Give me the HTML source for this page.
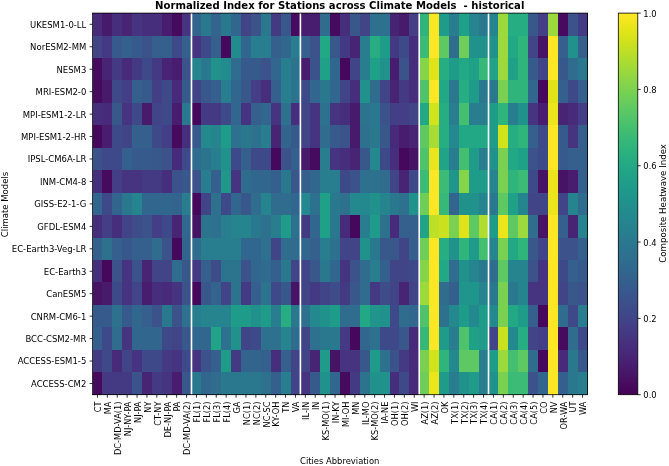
<!DOCTYPE html>
<html lang="en"><head><meta charset="utf-8"><title>Normalized Index heatmap</title>
<style>html,body{margin:0;padding:0;background:#fff}svg{display:block}text{font-family:"DejaVu Sans","Liberation Sans",sans-serif;fill:#000}</style></head><body>
<svg width="669" height="466" viewBox="0 0 669 466">
<rect width="669" height="466" fill="#fff"/>
<g shape-rendering="crispEdges">
<rect x="92.50" y="13.10" width="9.95" height="22.50" fill="#472a7a"/>
<rect x="102.40" y="13.10" width="9.95" height="22.50" fill="#481a6c"/>
<rect x="112.30" y="13.10" width="9.95" height="22.50" fill="#472e7c"/>
<rect x="122.20" y="13.10" width="9.95" height="22.50" fill="#482475"/>
<rect x="132.10" y="13.10" width="9.95" height="22.50" fill="#463480"/>
<rect x="142.00" y="13.10" width="9.95" height="22.50" fill="#472e7c"/>
<rect x="151.90" y="13.10" width="9.95" height="22.50" fill="#472e7c"/>
<rect x="161.80" y="13.10" width="9.95" height="22.50" fill="#481d6f"/>
<rect x="171.70" y="13.10" width="9.95" height="22.50" fill="#460b5e"/>
<rect x="181.60" y="13.10" width="9.95" height="22.50" fill="#463480"/>
<rect x="191.50" y="13.10" width="9.95" height="22.50" fill="#32648e"/>
<rect x="201.40" y="13.10" width="9.95" height="22.50" fill="#2a788e"/>
<rect x="211.30" y="13.10" width="9.95" height="22.50" fill="#32648e"/>
<rect x="221.20" y="13.10" width="9.95" height="22.50" fill="#2a788e"/>
<rect x="231.10" y="13.10" width="9.95" height="22.50" fill="#31678e"/>
<rect x="241.00" y="13.10" width="9.95" height="22.50" fill="#414487"/>
<rect x="250.90" y="13.10" width="9.95" height="22.50" fill="#3b528b"/>
<rect x="260.80" y="13.10" width="9.95" height="22.50" fill="#2a788e"/>
<rect x="270.70" y="13.10" width="9.95" height="22.50" fill="#443a83"/>
<rect x="280.60" y="13.10" width="9.95" height="22.50" fill="#38588c"/>
<rect x="290.50" y="13.10" width="9.95" height="22.50" fill="#460b5e"/>
<rect x="300.40" y="13.10" width="9.95" height="22.50" fill="#481d6f"/>
<rect x="310.30" y="13.10" width="9.95" height="22.50" fill="#481d6f"/>
<rect x="320.20" y="13.10" width="9.95" height="22.50" fill="#2f6c8e"/>
<rect x="330.10" y="13.10" width="9.95" height="22.50" fill="#460b5e"/>
<rect x="340.00" y="13.10" width="9.95" height="22.50" fill="#472e7c"/>
<rect x="349.90" y="13.10" width="9.95" height="22.50" fill="#38588c"/>
<rect x="359.80" y="13.10" width="9.95" height="22.50" fill="#414487"/>
<rect x="369.70" y="13.10" width="9.95" height="22.50" fill="#2d718e"/>
<rect x="379.60" y="13.10" width="9.95" height="22.50" fill="#2d718e"/>
<rect x="389.50" y="13.10" width="9.95" height="22.50" fill="#482475"/>
<rect x="399.40" y="13.10" width="9.95" height="22.50" fill="#481a6c"/>
<rect x="409.30" y="13.10" width="9.95" height="22.50" fill="#433e85"/>
<rect x="419.20" y="13.10" width="9.95" height="22.50" fill="#2fb47c"/>
<rect x="429.10" y="13.10" width="9.95" height="22.50" fill="#fde725"/>
<rect x="439.00" y="13.10" width="9.95" height="22.50" fill="#1e9c89"/>
<rect x="448.90" y="13.10" width="9.95" height="22.50" fill="#287d8e"/>
<rect x="458.80" y="13.10" width="9.95" height="22.50" fill="#1fa188"/>
<rect x="468.70" y="13.10" width="9.95" height="22.50" fill="#25848e"/>
<rect x="478.60" y="13.10" width="9.95" height="22.50" fill="#2a788e"/>
<rect x="488.50" y="13.10" width="9.95" height="22.50" fill="#25848e"/>
<rect x="498.40" y="13.10" width="9.95" height="22.50" fill="#9bd93c"/>
<rect x="508.30" y="13.10" width="9.95" height="22.50" fill="#26ad81"/>
<rect x="518.20" y="13.10" width="9.95" height="22.50" fill="#26ad81"/>
<rect x="528.10" y="13.10" width="9.95" height="22.50" fill="#38588c"/>
<rect x="538.00" y="13.10" width="9.95" height="22.50" fill="#433e85"/>
<rect x="547.90" y="13.10" width="9.95" height="22.50" fill="#9bd93c"/>
<rect x="557.80" y="13.10" width="9.95" height="22.50" fill="#460b5e"/>
<rect x="567.70" y="13.10" width="9.95" height="22.50" fill="#3b528b"/>
<rect x="577.60" y="13.10" width="9.95" height="22.50" fill="#443a83"/>
<rect x="92.50" y="35.55" width="9.95" height="22.50" fill="#414487"/>
<rect x="102.40" y="35.55" width="9.95" height="22.50" fill="#443a83"/>
<rect x="112.30" y="35.55" width="9.95" height="22.50" fill="#375a8c"/>
<rect x="122.20" y="35.55" width="9.95" height="22.50" fill="#355f8d"/>
<rect x="132.10" y="35.55" width="9.95" height="22.50" fill="#375a8c"/>
<rect x="142.00" y="35.55" width="9.95" height="22.50" fill="#3b528b"/>
<rect x="151.90" y="35.55" width="9.95" height="22.50" fill="#355f8d"/>
<rect x="161.80" y="35.55" width="9.95" height="22.50" fill="#355f8d"/>
<rect x="171.70" y="35.55" width="9.95" height="22.50" fill="#3e4989"/>
<rect x="181.60" y="35.55" width="9.95" height="22.50" fill="#355f8d"/>
<rect x="191.50" y="35.55" width="9.95" height="22.50" fill="#463480"/>
<rect x="201.40" y="35.55" width="9.95" height="22.50" fill="#3e4989"/>
<rect x="211.30" y="35.55" width="9.95" height="22.50" fill="#355f8d"/>
<rect x="221.20" y="35.55" width="9.95" height="22.50" fill="#46085c"/>
<rect x="231.10" y="35.55" width="9.95" height="22.50" fill="#228b8d"/>
<rect x="241.00" y="35.55" width="9.95" height="22.50" fill="#31678e"/>
<rect x="250.90" y="35.55" width="9.95" height="22.50" fill="#287d8e"/>
<rect x="260.80" y="35.55" width="9.95" height="22.50" fill="#287d8e"/>
<rect x="270.70" y="35.55" width="9.95" height="22.50" fill="#355f8d"/>
<rect x="280.60" y="35.55" width="9.95" height="22.50" fill="#31678e"/>
<rect x="290.50" y="35.55" width="9.95" height="22.50" fill="#287d8e"/>
<rect x="300.40" y="35.55" width="9.95" height="22.50" fill="#355f8d"/>
<rect x="310.30" y="35.55" width="9.95" height="22.50" fill="#3b528b"/>
<rect x="320.20" y="35.55" width="9.95" height="22.50" fill="#22a884"/>
<rect x="330.10" y="35.55" width="9.95" height="22.50" fill="#38588c"/>
<rect x="340.00" y="35.55" width="9.95" height="22.50" fill="#443a83"/>
<rect x="349.90" y="35.55" width="9.95" height="22.50" fill="#482475"/>
<rect x="359.80" y="35.55" width="9.95" height="22.50" fill="#287d8e"/>
<rect x="369.70" y="35.55" width="9.95" height="22.50" fill="#26ad81"/>
<rect x="379.60" y="35.55" width="9.95" height="22.50" fill="#1e9c89"/>
<rect x="389.50" y="35.55" width="9.95" height="22.50" fill="#443a83"/>
<rect x="399.40" y="35.55" width="9.95" height="22.50" fill="#3e4989"/>
<rect x="409.30" y="35.55" width="9.95" height="22.50" fill="#472e7c"/>
<rect x="419.20" y="35.55" width="9.95" height="22.50" fill="#3bbb75"/>
<rect x="429.10" y="35.55" width="9.95" height="22.50" fill="#fde725"/>
<rect x="439.00" y="35.55" width="9.95" height="22.50" fill="#5ec962"/>
<rect x="448.90" y="35.55" width="9.95" height="22.50" fill="#2f6c8e"/>
<rect x="458.80" y="35.55" width="9.95" height="22.50" fill="#6ece58"/>
<rect x="468.70" y="35.55" width="9.95" height="22.50" fill="#21918c"/>
<rect x="478.60" y="35.55" width="9.95" height="22.50" fill="#21918c"/>
<rect x="488.50" y="35.55" width="9.95" height="22.50" fill="#21918c"/>
<rect x="498.40" y="35.55" width="9.95" height="22.50" fill="#9bd93c"/>
<rect x="508.30" y="35.55" width="9.95" height="22.50" fill="#22a884"/>
<rect x="518.20" y="35.55" width="9.95" height="22.50" fill="#2fb47c"/>
<rect x="528.10" y="35.55" width="9.95" height="22.50" fill="#414487"/>
<rect x="538.00" y="35.55" width="9.95" height="22.50" fill="#471365"/>
<rect x="547.90" y="35.55" width="9.95" height="22.50" fill="#fde725"/>
<rect x="557.80" y="35.55" width="9.95" height="22.50" fill="#355f8d"/>
<rect x="567.70" y="35.55" width="9.95" height="22.50" fill="#21918c"/>
<rect x="577.60" y="35.55" width="9.95" height="22.50" fill="#355f8d"/>
<rect x="92.50" y="57.99" width="9.95" height="22.50" fill="#460b5e"/>
<rect x="102.40" y="57.99" width="9.95" height="22.50" fill="#482475"/>
<rect x="112.30" y="57.99" width="9.95" height="22.50" fill="#443a83"/>
<rect x="122.20" y="57.99" width="9.95" height="22.50" fill="#472a7a"/>
<rect x="132.10" y="57.99" width="9.95" height="22.50" fill="#443a83"/>
<rect x="142.00" y="57.99" width="9.95" height="22.50" fill="#3e4989"/>
<rect x="151.90" y="57.99" width="9.95" height="22.50" fill="#443a83"/>
<rect x="161.80" y="57.99" width="9.95" height="22.50" fill="#482475"/>
<rect x="171.70" y="57.99" width="9.95" height="22.50" fill="#481d6f"/>
<rect x="181.60" y="57.99" width="9.95" height="22.50" fill="#3b528b"/>
<rect x="191.50" y="57.99" width="9.95" height="22.50" fill="#25848e"/>
<rect x="201.40" y="57.99" width="9.95" height="22.50" fill="#2a788e"/>
<rect x="211.30" y="57.99" width="9.95" height="22.50" fill="#21918c"/>
<rect x="221.20" y="57.99" width="9.95" height="22.50" fill="#228b8d"/>
<rect x="231.10" y="57.99" width="9.95" height="22.50" fill="#2f6c8e"/>
<rect x="241.00" y="57.99" width="9.95" height="22.50" fill="#375a8c"/>
<rect x="250.90" y="57.99" width="9.95" height="22.50" fill="#375a8c"/>
<rect x="260.80" y="57.99" width="9.95" height="22.50" fill="#3b528b"/>
<rect x="270.70" y="57.99" width="9.95" height="22.50" fill="#31678e"/>
<rect x="280.60" y="57.99" width="9.95" height="22.50" fill="#287d8e"/>
<rect x="290.50" y="57.99" width="9.95" height="22.50" fill="#2c738e"/>
<rect x="300.40" y="57.99" width="9.95" height="22.50" fill="#481d6f"/>
<rect x="310.30" y="57.99" width="9.95" height="22.50" fill="#3b528b"/>
<rect x="320.20" y="57.99" width="9.95" height="22.50" fill="#1fa188"/>
<rect x="330.10" y="57.99" width="9.95" height="22.50" fill="#31678e"/>
<rect x="340.00" y="57.99" width="9.95" height="22.50" fill="#46085c"/>
<rect x="349.90" y="57.99" width="9.95" height="22.50" fill="#414487"/>
<rect x="359.80" y="57.99" width="9.95" height="22.50" fill="#287d8e"/>
<rect x="369.70" y="57.99" width="9.95" height="22.50" fill="#1fa188"/>
<rect x="379.60" y="57.99" width="9.95" height="22.50" fill="#21918c"/>
<rect x="389.50" y="57.99" width="9.95" height="22.50" fill="#481d6f"/>
<rect x="399.40" y="57.99" width="9.95" height="22.50" fill="#3b528b"/>
<rect x="409.30" y="57.99" width="9.95" height="22.50" fill="#472e7c"/>
<rect x="419.20" y="57.99" width="9.95" height="22.50" fill="#86d549"/>
<rect x="429.10" y="57.99" width="9.95" height="22.50" fill="#dfe318"/>
<rect x="439.00" y="57.99" width="9.95" height="22.50" fill="#26ad81"/>
<rect x="448.90" y="57.99" width="9.95" height="22.50" fill="#1e9c89"/>
<rect x="458.80" y="57.99" width="9.95" height="22.50" fill="#22a884"/>
<rect x="468.70" y="57.99" width="9.95" height="22.50" fill="#1fa188"/>
<rect x="478.60" y="57.99" width="9.95" height="22.50" fill="#37b878"/>
<rect x="488.50" y="57.99" width="9.95" height="22.50" fill="#20a386"/>
<rect x="498.40" y="57.99" width="9.95" height="22.50" fill="#9bd93c"/>
<rect x="508.30" y="57.99" width="9.95" height="22.50" fill="#1fa188"/>
<rect x="518.20" y="57.99" width="9.95" height="22.50" fill="#2fb47c"/>
<rect x="528.10" y="57.99" width="9.95" height="22.50" fill="#375a8c"/>
<rect x="538.00" y="57.99" width="9.95" height="22.50" fill="#414487"/>
<rect x="547.90" y="57.99" width="9.95" height="22.50" fill="#fde725"/>
<rect x="557.80" y="57.99" width="9.95" height="22.50" fill="#38588c"/>
<rect x="567.70" y="57.99" width="9.95" height="22.50" fill="#2f6c8e"/>
<rect x="577.60" y="57.99" width="9.95" height="22.50" fill="#2a788e"/>
<rect x="92.50" y="80.44" width="9.95" height="22.50" fill="#460b5e"/>
<rect x="102.40" y="80.44" width="9.95" height="22.50" fill="#481a6c"/>
<rect x="112.30" y="80.44" width="9.95" height="22.50" fill="#3e4989"/>
<rect x="122.20" y="80.44" width="9.95" height="22.50" fill="#433e85"/>
<rect x="132.10" y="80.44" width="9.95" height="22.50" fill="#355f8d"/>
<rect x="142.00" y="80.44" width="9.95" height="22.50" fill="#375a8c"/>
<rect x="151.90" y="80.44" width="9.95" height="22.50" fill="#433e85"/>
<rect x="161.80" y="80.44" width="9.95" height="22.50" fill="#3e4989"/>
<rect x="171.70" y="80.44" width="9.95" height="22.50" fill="#472a7a"/>
<rect x="181.60" y="80.44" width="9.95" height="22.50" fill="#375a8c"/>
<rect x="191.50" y="80.44" width="9.95" height="22.50" fill="#414487"/>
<rect x="201.40" y="80.44" width="9.95" height="22.50" fill="#38588c"/>
<rect x="211.30" y="80.44" width="9.95" height="22.50" fill="#355f8d"/>
<rect x="221.20" y="80.44" width="9.95" height="22.50" fill="#287d8e"/>
<rect x="231.10" y="80.44" width="9.95" height="22.50" fill="#31678e"/>
<rect x="241.00" y="80.44" width="9.95" height="22.50" fill="#38588c"/>
<rect x="250.90" y="80.44" width="9.95" height="22.50" fill="#433e85"/>
<rect x="260.80" y="80.44" width="9.95" height="22.50" fill="#472e7c"/>
<rect x="270.70" y="80.44" width="9.95" height="22.50" fill="#355f8d"/>
<rect x="280.60" y="80.44" width="9.95" height="22.50" fill="#287d8e"/>
<rect x="290.50" y="80.44" width="9.95" height="22.50" fill="#2c738e"/>
<rect x="300.40" y="80.44" width="9.95" height="22.50" fill="#3e4989"/>
<rect x="310.30" y="80.44" width="9.95" height="22.50" fill="#31678e"/>
<rect x="320.20" y="80.44" width="9.95" height="22.50" fill="#2a788e"/>
<rect x="330.10" y="80.44" width="9.95" height="22.50" fill="#31678e"/>
<rect x="340.00" y="80.44" width="9.95" height="22.50" fill="#414487"/>
<rect x="349.90" y="80.44" width="9.95" height="22.50" fill="#472e7c"/>
<rect x="359.80" y="80.44" width="9.95" height="22.50" fill="#21918c"/>
<rect x="369.70" y="80.44" width="9.95" height="22.50" fill="#2f6c8e"/>
<rect x="379.60" y="80.44" width="9.95" height="22.50" fill="#414487"/>
<rect x="389.50" y="80.44" width="9.95" height="22.50" fill="#482475"/>
<rect x="399.40" y="80.44" width="9.95" height="22.50" fill="#443a83"/>
<rect x="409.30" y="80.44" width="9.95" height="22.50" fill="#472e7c"/>
<rect x="419.20" y="80.44" width="9.95" height="22.50" fill="#4ec36b"/>
<rect x="429.10" y="80.44" width="9.95" height="22.50" fill="#fde725"/>
<rect x="439.00" y="80.44" width="9.95" height="22.50" fill="#22a884"/>
<rect x="448.90" y="80.44" width="9.95" height="22.50" fill="#2a788e"/>
<rect x="458.80" y="80.44" width="9.95" height="22.50" fill="#26ad81"/>
<rect x="468.70" y="80.44" width="9.95" height="22.50" fill="#1e9c89"/>
<rect x="478.60" y="80.44" width="9.95" height="22.50" fill="#2a788e"/>
<rect x="488.50" y="80.44" width="9.95" height="22.50" fill="#2a788e"/>
<rect x="498.40" y="80.44" width="9.95" height="22.50" fill="#7ad151"/>
<rect x="508.30" y="80.44" width="9.95" height="22.50" fill="#2fb47c"/>
<rect x="518.20" y="80.44" width="9.95" height="22.50" fill="#2fb47c"/>
<rect x="528.10" y="80.44" width="9.95" height="22.50" fill="#31678e"/>
<rect x="538.00" y="80.44" width="9.95" height="22.50" fill="#46085c"/>
<rect x="547.90" y="80.44" width="9.95" height="22.50" fill="#dfe318"/>
<rect x="557.80" y="80.44" width="9.95" height="22.50" fill="#355f8d"/>
<rect x="567.70" y="80.44" width="9.95" height="22.50" fill="#3e4989"/>
<rect x="577.60" y="80.44" width="9.95" height="22.50" fill="#355f8d"/>
<rect x="92.50" y="102.89" width="9.95" height="22.50" fill="#472e7c"/>
<rect x="102.40" y="102.89" width="9.95" height="22.50" fill="#472a7a"/>
<rect x="112.30" y="102.89" width="9.95" height="22.50" fill="#38588c"/>
<rect x="122.20" y="102.89" width="9.95" height="22.50" fill="#463480"/>
<rect x="132.10" y="102.89" width="9.95" height="22.50" fill="#3e4989"/>
<rect x="142.00" y="102.89" width="9.95" height="22.50" fill="#481a6c"/>
<rect x="151.90" y="102.89" width="9.95" height="22.50" fill="#414487"/>
<rect x="161.80" y="102.89" width="9.95" height="22.50" fill="#3e4989"/>
<rect x="171.70" y="102.89" width="9.95" height="22.50" fill="#481d6f"/>
<rect x="181.60" y="102.89" width="9.95" height="22.50" fill="#2a788e"/>
<rect x="191.50" y="102.89" width="9.95" height="22.50" fill="#46085c"/>
<rect x="201.40" y="102.89" width="9.95" height="22.50" fill="#443a83"/>
<rect x="211.30" y="102.89" width="9.95" height="22.50" fill="#443a83"/>
<rect x="221.20" y="102.89" width="9.95" height="22.50" fill="#3e4989"/>
<rect x="231.10" y="102.89" width="9.95" height="22.50" fill="#31678e"/>
<rect x="241.00" y="102.89" width="9.95" height="22.50" fill="#463480"/>
<rect x="250.90" y="102.89" width="9.95" height="22.50" fill="#355f8d"/>
<rect x="260.80" y="102.89" width="9.95" height="22.50" fill="#31678e"/>
<rect x="270.70" y="102.89" width="9.95" height="22.50" fill="#463480"/>
<rect x="280.60" y="102.89" width="9.95" height="22.50" fill="#2d718e"/>
<rect x="290.50" y="102.89" width="9.95" height="22.50" fill="#472e7c"/>
<rect x="300.40" y="102.89" width="9.95" height="22.50" fill="#414487"/>
<rect x="310.30" y="102.89" width="9.95" height="22.50" fill="#463480"/>
<rect x="320.20" y="102.89" width="9.95" height="22.50" fill="#2d718e"/>
<rect x="330.10" y="102.89" width="9.95" height="22.50" fill="#463480"/>
<rect x="340.00" y="102.89" width="9.95" height="22.50" fill="#472e7c"/>
<rect x="349.90" y="102.89" width="9.95" height="22.50" fill="#481a6c"/>
<rect x="359.80" y="102.89" width="9.95" height="22.50" fill="#2c738e"/>
<rect x="369.70" y="102.89" width="9.95" height="22.50" fill="#2a788e"/>
<rect x="379.60" y="102.89" width="9.95" height="22.50" fill="#3b528b"/>
<rect x="389.50" y="102.89" width="9.95" height="22.50" fill="#433e85"/>
<rect x="399.40" y="102.89" width="9.95" height="22.50" fill="#433e85"/>
<rect x="409.30" y="102.89" width="9.95" height="22.50" fill="#414487"/>
<rect x="419.20" y="102.89" width="9.95" height="22.50" fill="#22a884"/>
<rect x="429.10" y="102.89" width="9.95" height="22.50" fill="#d2e21b"/>
<rect x="439.00" y="102.89" width="9.95" height="22.50" fill="#26ad81"/>
<rect x="448.90" y="102.89" width="9.95" height="22.50" fill="#287d8e"/>
<rect x="458.80" y="102.89" width="9.95" height="22.50" fill="#44bf70"/>
<rect x="468.70" y="102.89" width="9.95" height="22.50" fill="#287d8e"/>
<rect x="478.60" y="102.89" width="9.95" height="22.50" fill="#287d8e"/>
<rect x="488.50" y="102.89" width="9.95" height="22.50" fill="#1e9c89"/>
<rect x="498.40" y="102.89" width="9.95" height="22.50" fill="#2fb47c"/>
<rect x="508.30" y="102.89" width="9.95" height="22.50" fill="#287d8e"/>
<rect x="518.20" y="102.89" width="9.95" height="22.50" fill="#21918c"/>
<rect x="528.10" y="102.89" width="9.95" height="22.50" fill="#463480"/>
<rect x="538.00" y="102.89" width="9.95" height="22.50" fill="#481d6f"/>
<rect x="547.90" y="102.89" width="9.95" height="22.50" fill="#ece51b"/>
<rect x="557.80" y="102.89" width="9.95" height="22.50" fill="#482475"/>
<rect x="567.70" y="102.89" width="9.95" height="22.50" fill="#472a7a"/>
<rect x="577.60" y="102.89" width="9.95" height="22.50" fill="#433e85"/>
<rect x="92.50" y="125.34" width="9.95" height="22.50" fill="#46085c"/>
<rect x="102.40" y="125.34" width="9.95" height="22.50" fill="#481d6f"/>
<rect x="112.30" y="125.34" width="9.95" height="22.50" fill="#3e4989"/>
<rect x="122.20" y="125.34" width="9.95" height="22.50" fill="#414487"/>
<rect x="132.10" y="125.34" width="9.95" height="22.50" fill="#355f8d"/>
<rect x="142.00" y="125.34" width="9.95" height="22.50" fill="#355f8d"/>
<rect x="151.90" y="125.34" width="9.95" height="22.50" fill="#3e4989"/>
<rect x="161.80" y="125.34" width="9.95" height="22.50" fill="#433e85"/>
<rect x="171.70" y="125.34" width="9.95" height="22.50" fill="#460b5e"/>
<rect x="181.60" y="125.34" width="9.95" height="22.50" fill="#472e7c"/>
<rect x="191.50" y="125.34" width="9.95" height="22.50" fill="#375a8c"/>
<rect x="201.40" y="125.34" width="9.95" height="22.50" fill="#23898e"/>
<rect x="211.30" y="125.34" width="9.95" height="22.50" fill="#25848e"/>
<rect x="221.20" y="125.34" width="9.95" height="22.50" fill="#1e9c89"/>
<rect x="231.10" y="125.34" width="9.95" height="22.50" fill="#2d718e"/>
<rect x="241.00" y="125.34" width="9.95" height="22.50" fill="#2a788e"/>
<rect x="250.90" y="125.34" width="9.95" height="22.50" fill="#2d718e"/>
<rect x="260.80" y="125.34" width="9.95" height="22.50" fill="#287d8e"/>
<rect x="270.70" y="125.34" width="9.95" height="22.50" fill="#482475"/>
<rect x="280.60" y="125.34" width="9.95" height="22.50" fill="#32648e"/>
<rect x="290.50" y="125.34" width="9.95" height="22.50" fill="#375a8c"/>
<rect x="300.40" y="125.34" width="9.95" height="22.50" fill="#414487"/>
<rect x="310.30" y="125.34" width="9.95" height="22.50" fill="#463480"/>
<rect x="320.20" y="125.34" width="9.95" height="22.50" fill="#2f6c8e"/>
<rect x="330.10" y="125.34" width="9.95" height="22.50" fill="#375a8c"/>
<rect x="340.00" y="125.34" width="9.95" height="22.50" fill="#3b528b"/>
<rect x="349.90" y="125.34" width="9.95" height="22.50" fill="#481a6c"/>
<rect x="359.80" y="125.34" width="9.95" height="22.50" fill="#2d718e"/>
<rect x="369.70" y="125.34" width="9.95" height="22.50" fill="#2a788e"/>
<rect x="379.60" y="125.34" width="9.95" height="22.50" fill="#38588c"/>
<rect x="389.50" y="125.34" width="9.95" height="22.50" fill="#472a7a"/>
<rect x="399.40" y="125.34" width="9.95" height="22.50" fill="#481d6f"/>
<rect x="409.30" y="125.34" width="9.95" height="22.50" fill="#482475"/>
<rect x="419.20" y="125.34" width="9.95" height="22.50" fill="#5ec962"/>
<rect x="429.10" y="125.34" width="9.95" height="22.50" fill="#a8db34"/>
<rect x="439.00" y="125.34" width="9.95" height="22.50" fill="#26ad81"/>
<rect x="448.90" y="125.34" width="9.95" height="22.50" fill="#23898e"/>
<rect x="458.80" y="125.34" width="9.95" height="22.50" fill="#22a884"/>
<rect x="468.70" y="125.34" width="9.95" height="22.50" fill="#22a884"/>
<rect x="478.60" y="125.34" width="9.95" height="22.50" fill="#22a884"/>
<rect x="488.50" y="125.34" width="9.95" height="22.50" fill="#1e9c89"/>
<rect x="498.40" y="125.34" width="9.95" height="22.50" fill="#d2e21b"/>
<rect x="508.30" y="125.34" width="9.95" height="22.50" fill="#26ad81"/>
<rect x="518.20" y="125.34" width="9.95" height="22.50" fill="#2fb47c"/>
<rect x="528.10" y="125.34" width="9.95" height="22.50" fill="#355f8d"/>
<rect x="538.00" y="125.34" width="9.95" height="22.50" fill="#3e4989"/>
<rect x="547.90" y="125.34" width="9.95" height="22.50" fill="#fde725"/>
<rect x="557.80" y="125.34" width="9.95" height="22.50" fill="#375a8c"/>
<rect x="567.70" y="125.34" width="9.95" height="22.50" fill="#463480"/>
<rect x="577.60" y="125.34" width="9.95" height="22.50" fill="#355f8d"/>
<rect x="92.50" y="147.78" width="9.95" height="22.50" fill="#3b528b"/>
<rect x="102.40" y="147.78" width="9.95" height="22.50" fill="#3e4989"/>
<rect x="112.30" y="147.78" width="9.95" height="22.50" fill="#3e4989"/>
<rect x="122.20" y="147.78" width="9.95" height="22.50" fill="#355f8d"/>
<rect x="132.10" y="147.78" width="9.95" height="22.50" fill="#375a8c"/>
<rect x="142.00" y="147.78" width="9.95" height="22.50" fill="#375a8c"/>
<rect x="151.90" y="147.78" width="9.95" height="22.50" fill="#38588c"/>
<rect x="161.80" y="147.78" width="9.95" height="22.50" fill="#3b528b"/>
<rect x="171.70" y="147.78" width="9.95" height="22.50" fill="#472a7a"/>
<rect x="181.60" y="147.78" width="9.95" height="22.50" fill="#3e4989"/>
<rect x="191.50" y="147.78" width="9.95" height="22.50" fill="#2f6c8e"/>
<rect x="201.40" y="147.78" width="9.95" height="22.50" fill="#2c738e"/>
<rect x="211.30" y="147.78" width="9.95" height="22.50" fill="#287d8e"/>
<rect x="221.20" y="147.78" width="9.95" height="22.50" fill="#21918c"/>
<rect x="231.10" y="147.78" width="9.95" height="22.50" fill="#3e4989"/>
<rect x="241.00" y="147.78" width="9.95" height="22.50" fill="#355f8d"/>
<rect x="250.90" y="147.78" width="9.95" height="22.50" fill="#3e4989"/>
<rect x="260.80" y="147.78" width="9.95" height="22.50" fill="#3e4989"/>
<rect x="270.70" y="147.78" width="9.95" height="22.50" fill="#46085c"/>
<rect x="280.60" y="147.78" width="9.95" height="22.50" fill="#3b528b"/>
<rect x="290.50" y="147.78" width="9.95" height="22.50" fill="#355f8d"/>
<rect x="300.40" y="147.78" width="9.95" height="22.50" fill="#481a6c"/>
<rect x="310.30" y="147.78" width="9.95" height="22.50" fill="#460b5e"/>
<rect x="320.20" y="147.78" width="9.95" height="22.50" fill="#287d8e"/>
<rect x="330.10" y="147.78" width="9.95" height="22.50" fill="#463480"/>
<rect x="340.00" y="147.78" width="9.95" height="22.50" fill="#472e7c"/>
<rect x="349.90" y="147.78" width="9.95" height="22.50" fill="#482475"/>
<rect x="359.80" y="147.78" width="9.95" height="22.50" fill="#38588c"/>
<rect x="369.70" y="147.78" width="9.95" height="22.50" fill="#23898e"/>
<rect x="379.60" y="147.78" width="9.95" height="22.50" fill="#3e4989"/>
<rect x="389.50" y="147.78" width="9.95" height="22.50" fill="#472e7c"/>
<rect x="399.40" y="147.78" width="9.95" height="22.50" fill="#46085c"/>
<rect x="409.30" y="147.78" width="9.95" height="22.50" fill="#471365"/>
<rect x="419.20" y="147.78" width="9.95" height="22.50" fill="#4ec36b"/>
<rect x="429.10" y="147.78" width="9.95" height="22.50" fill="#ece51b"/>
<rect x="439.00" y="147.78" width="9.95" height="22.50" fill="#20a386"/>
<rect x="448.90" y="147.78" width="9.95" height="22.50" fill="#287d8e"/>
<rect x="458.80" y="147.78" width="9.95" height="22.50" fill="#44bf70"/>
<rect x="468.70" y="147.78" width="9.95" height="22.50" fill="#1e9c89"/>
<rect x="478.60" y="147.78" width="9.95" height="22.50" fill="#287d8e"/>
<rect x="488.50" y="147.78" width="9.95" height="22.50" fill="#21918c"/>
<rect x="498.40" y="147.78" width="9.95" height="22.50" fill="#7ad151"/>
<rect x="508.30" y="147.78" width="9.95" height="22.50" fill="#22a884"/>
<rect x="518.20" y="147.78" width="9.95" height="22.50" fill="#1fa188"/>
<rect x="528.10" y="147.78" width="9.95" height="22.50" fill="#3b528b"/>
<rect x="538.00" y="147.78" width="9.95" height="22.50" fill="#3e4989"/>
<rect x="547.90" y="147.78" width="9.95" height="22.50" fill="#fde725"/>
<rect x="557.80" y="147.78" width="9.95" height="22.50" fill="#375a8c"/>
<rect x="567.70" y="147.78" width="9.95" height="22.50" fill="#355f8d"/>
<rect x="577.60" y="147.78" width="9.95" height="22.50" fill="#355f8d"/>
<rect x="92.50" y="170.23" width="9.95" height="22.50" fill="#472e7c"/>
<rect x="102.40" y="170.23" width="9.95" height="22.50" fill="#460b5e"/>
<rect x="112.30" y="170.23" width="9.95" height="22.50" fill="#433e85"/>
<rect x="122.20" y="170.23" width="9.95" height="22.50" fill="#463480"/>
<rect x="132.10" y="170.23" width="9.95" height="22.50" fill="#463480"/>
<rect x="142.00" y="170.23" width="9.95" height="22.50" fill="#443a83"/>
<rect x="151.90" y="170.23" width="9.95" height="22.50" fill="#443a83"/>
<rect x="161.80" y="170.23" width="9.95" height="22.50" fill="#472e7c"/>
<rect x="171.70" y="170.23" width="9.95" height="22.50" fill="#3b528b"/>
<rect x="181.60" y="170.23" width="9.95" height="22.50" fill="#38588c"/>
<rect x="191.50" y="170.23" width="9.95" height="22.50" fill="#3b528b"/>
<rect x="201.40" y="170.23" width="9.95" height="22.50" fill="#287d8e"/>
<rect x="211.30" y="170.23" width="9.95" height="22.50" fill="#355f8d"/>
<rect x="221.20" y="170.23" width="9.95" height="22.50" fill="#1f978b"/>
<rect x="231.10" y="170.23" width="9.95" height="22.50" fill="#463480"/>
<rect x="241.00" y="170.23" width="9.95" height="22.50" fill="#2f6c8e"/>
<rect x="250.90" y="170.23" width="9.95" height="22.50" fill="#31678e"/>
<rect x="260.80" y="170.23" width="9.95" height="22.50" fill="#31678e"/>
<rect x="270.70" y="170.23" width="9.95" height="22.50" fill="#355f8d"/>
<rect x="280.60" y="170.23" width="9.95" height="22.50" fill="#2a788e"/>
<rect x="290.50" y="170.23" width="9.95" height="22.50" fill="#38588c"/>
<rect x="300.40" y="170.23" width="9.95" height="22.50" fill="#355f8d"/>
<rect x="310.30" y="170.23" width="9.95" height="22.50" fill="#31678e"/>
<rect x="320.20" y="170.23" width="9.95" height="22.50" fill="#287d8e"/>
<rect x="330.10" y="170.23" width="9.95" height="22.50" fill="#287d8e"/>
<rect x="340.00" y="170.23" width="9.95" height="22.50" fill="#3e4989"/>
<rect x="349.90" y="170.23" width="9.95" height="22.50" fill="#3b528b"/>
<rect x="359.80" y="170.23" width="9.95" height="22.50" fill="#2d718e"/>
<rect x="369.70" y="170.23" width="9.95" height="22.50" fill="#2d718e"/>
<rect x="379.60" y="170.23" width="9.95" height="22.50" fill="#2f6c8e"/>
<rect x="389.50" y="170.23" width="9.95" height="22.50" fill="#414487"/>
<rect x="399.40" y="170.23" width="9.95" height="22.50" fill="#482475"/>
<rect x="409.30" y="170.23" width="9.95" height="22.50" fill="#3e4989"/>
<rect x="419.20" y="170.23" width="9.95" height="22.50" fill="#3bbb75"/>
<rect x="429.10" y="170.23" width="9.95" height="22.50" fill="#fde725"/>
<rect x="439.00" y="170.23" width="9.95" height="22.50" fill="#3bbb75"/>
<rect x="448.90" y="170.23" width="9.95" height="22.50" fill="#1f958b"/>
<rect x="458.80" y="170.23" width="9.95" height="22.50" fill="#86d549"/>
<rect x="468.70" y="170.23" width="9.95" height="22.50" fill="#1e9c89"/>
<rect x="478.60" y="170.23" width="9.95" height="22.50" fill="#1e9c89"/>
<rect x="488.50" y="170.23" width="9.95" height="22.50" fill="#25848e"/>
<rect x="498.40" y="170.23" width="9.95" height="22.50" fill="#7ad151"/>
<rect x="508.30" y="170.23" width="9.95" height="22.50" fill="#2fb47c"/>
<rect x="518.20" y="170.23" width="9.95" height="22.50" fill="#3bbb75"/>
<rect x="528.10" y="170.23" width="9.95" height="22.50" fill="#3e4989"/>
<rect x="538.00" y="170.23" width="9.95" height="22.50" fill="#471365"/>
<rect x="547.90" y="170.23" width="9.95" height="22.50" fill="#ece51b"/>
<rect x="557.80" y="170.23" width="9.95" height="22.50" fill="#471365"/>
<rect x="567.70" y="170.23" width="9.95" height="22.50" fill="#481d6f"/>
<rect x="577.60" y="170.23" width="9.95" height="22.50" fill="#355f8d"/>
<rect x="92.50" y="192.68" width="9.95" height="22.50" fill="#31678e"/>
<rect x="102.40" y="192.68" width="9.95" height="22.50" fill="#3e4989"/>
<rect x="112.30" y="192.68" width="9.95" height="22.50" fill="#32648e"/>
<rect x="122.20" y="192.68" width="9.95" height="22.50" fill="#2a788e"/>
<rect x="132.10" y="192.68" width="9.95" height="22.50" fill="#25848e"/>
<rect x="142.00" y="192.68" width="9.95" height="22.50" fill="#31678e"/>
<rect x="151.90" y="192.68" width="9.95" height="22.50" fill="#31678e"/>
<rect x="161.80" y="192.68" width="9.95" height="22.50" fill="#31678e"/>
<rect x="171.70" y="192.68" width="9.95" height="22.50" fill="#32648e"/>
<rect x="181.60" y="192.68" width="9.95" height="22.50" fill="#287d8e"/>
<rect x="191.50" y="192.68" width="9.95" height="22.50" fill="#46085c"/>
<rect x="201.40" y="192.68" width="9.95" height="22.50" fill="#414487"/>
<rect x="211.30" y="192.68" width="9.95" height="22.50" fill="#2d718e"/>
<rect x="221.20" y="192.68" width="9.95" height="22.50" fill="#3e4989"/>
<rect x="231.10" y="192.68" width="9.95" height="22.50" fill="#31678e"/>
<rect x="241.00" y="192.68" width="9.95" height="22.50" fill="#38588c"/>
<rect x="250.90" y="192.68" width="9.95" height="22.50" fill="#2f6c8e"/>
<rect x="260.80" y="192.68" width="9.95" height="22.50" fill="#25848e"/>
<rect x="270.70" y="192.68" width="9.95" height="22.50" fill="#2f6c8e"/>
<rect x="280.60" y="192.68" width="9.95" height="22.50" fill="#2f6c8e"/>
<rect x="290.50" y="192.68" width="9.95" height="22.50" fill="#31678e"/>
<rect x="300.40" y="192.68" width="9.95" height="22.50" fill="#23898e"/>
<rect x="310.30" y="192.68" width="9.95" height="22.50" fill="#2d718e"/>
<rect x="320.20" y="192.68" width="9.95" height="22.50" fill="#1fa188"/>
<rect x="330.10" y="192.68" width="9.95" height="22.50" fill="#2a788e"/>
<rect x="340.00" y="192.68" width="9.95" height="22.50" fill="#2d718e"/>
<rect x="349.90" y="192.68" width="9.95" height="22.50" fill="#23898e"/>
<rect x="359.80" y="192.68" width="9.95" height="22.50" fill="#23898e"/>
<rect x="369.70" y="192.68" width="9.95" height="22.50" fill="#21918c"/>
<rect x="379.60" y="192.68" width="9.95" height="22.50" fill="#25848e"/>
<rect x="389.50" y="192.68" width="9.95" height="22.50" fill="#2a788e"/>
<rect x="399.40" y="192.68" width="9.95" height="22.50" fill="#2d718e"/>
<rect x="409.30" y="192.68" width="9.95" height="22.50" fill="#21918c"/>
<rect x="419.20" y="192.68" width="9.95" height="22.50" fill="#6ece58"/>
<rect x="429.10" y="192.68" width="9.95" height="22.50" fill="#fde725"/>
<rect x="439.00" y="192.68" width="9.95" height="22.50" fill="#37b878"/>
<rect x="448.90" y="192.68" width="9.95" height="22.50" fill="#32648e"/>
<rect x="458.80" y="192.68" width="9.95" height="22.50" fill="#21918c"/>
<rect x="468.70" y="192.68" width="9.95" height="22.50" fill="#21918c"/>
<rect x="478.60" y="192.68" width="9.95" height="22.50" fill="#25848e"/>
<rect x="488.50" y="192.68" width="9.95" height="22.50" fill="#2a788e"/>
<rect x="498.40" y="192.68" width="9.95" height="22.50" fill="#5ec962"/>
<rect x="508.30" y="192.68" width="9.95" height="22.50" fill="#1fa188"/>
<rect x="518.20" y="192.68" width="9.95" height="22.50" fill="#25848e"/>
<rect x="528.10" y="192.68" width="9.95" height="22.50" fill="#414487"/>
<rect x="538.00" y="192.68" width="9.95" height="22.50" fill="#414487"/>
<rect x="547.90" y="192.68" width="9.95" height="22.50" fill="#ece51b"/>
<rect x="557.80" y="192.68" width="9.95" height="22.50" fill="#414487"/>
<rect x="567.70" y="192.68" width="9.95" height="22.50" fill="#25848e"/>
<rect x="577.60" y="192.68" width="9.95" height="22.50" fill="#2f6c8e"/>
<rect x="92.50" y="215.12" width="9.95" height="22.50" fill="#472e7c"/>
<rect x="102.40" y="215.12" width="9.95" height="22.50" fill="#433e85"/>
<rect x="112.30" y="215.12" width="9.95" height="22.50" fill="#472e7c"/>
<rect x="122.20" y="215.12" width="9.95" height="22.50" fill="#414487"/>
<rect x="132.10" y="215.12" width="9.95" height="22.50" fill="#3e4c8a"/>
<rect x="142.00" y="215.12" width="9.95" height="22.50" fill="#3b528b"/>
<rect x="151.90" y="215.12" width="9.95" height="22.50" fill="#433e85"/>
<rect x="161.80" y="215.12" width="9.95" height="22.50" fill="#3e4989"/>
<rect x="171.70" y="215.12" width="9.95" height="22.50" fill="#482475"/>
<rect x="181.60" y="215.12" width="9.95" height="22.50" fill="#31678e"/>
<rect x="191.50" y="215.12" width="9.95" height="22.50" fill="#471365"/>
<rect x="201.40" y="215.12" width="9.95" height="22.50" fill="#2c738e"/>
<rect x="211.30" y="215.12" width="9.95" height="22.50" fill="#2d718e"/>
<rect x="221.20" y="215.12" width="9.95" height="22.50" fill="#287d8e"/>
<rect x="231.10" y="215.12" width="9.95" height="22.50" fill="#25848e"/>
<rect x="241.00" y="215.12" width="9.95" height="22.50" fill="#25848e"/>
<rect x="250.90" y="215.12" width="9.95" height="22.50" fill="#2a788e"/>
<rect x="260.80" y="215.12" width="9.95" height="22.50" fill="#2d718e"/>
<rect x="270.70" y="215.12" width="9.95" height="22.50" fill="#287d8e"/>
<rect x="280.60" y="215.12" width="9.95" height="22.50" fill="#1e9c89"/>
<rect x="290.50" y="215.12" width="9.95" height="22.50" fill="#2d718e"/>
<rect x="300.40" y="215.12" width="9.95" height="22.50" fill="#443a83"/>
<rect x="310.30" y="215.12" width="9.95" height="22.50" fill="#31678e"/>
<rect x="320.20" y="215.12" width="9.95" height="22.50" fill="#1fa188"/>
<rect x="330.10" y="215.12" width="9.95" height="22.50" fill="#2a788e"/>
<rect x="340.00" y="215.12" width="9.95" height="22.50" fill="#472a7a"/>
<rect x="349.90" y="215.12" width="9.95" height="22.50" fill="#46085c"/>
<rect x="359.80" y="215.12" width="9.95" height="22.50" fill="#287d8e"/>
<rect x="369.70" y="215.12" width="9.95" height="22.50" fill="#1e9c89"/>
<rect x="379.60" y="215.12" width="9.95" height="22.50" fill="#2d718e"/>
<rect x="389.50" y="215.12" width="9.95" height="22.50" fill="#472a7a"/>
<rect x="399.40" y="215.12" width="9.95" height="22.50" fill="#355f8d"/>
<rect x="409.30" y="215.12" width="9.95" height="22.50" fill="#355f8d"/>
<rect x="419.20" y="215.12" width="9.95" height="22.50" fill="#20a386"/>
<rect x="429.10" y="215.12" width="9.95" height="22.50" fill="#bddf26"/>
<rect x="439.00" y="215.12" width="9.95" height="22.50" fill="#cae11f"/>
<rect x="448.90" y="215.12" width="9.95" height="22.50" fill="#7ad151"/>
<rect x="458.80" y="215.12" width="9.95" height="22.50" fill="#dfe318"/>
<rect x="468.70" y="215.12" width="9.95" height="22.50" fill="#5ec962"/>
<rect x="478.60" y="215.12" width="9.95" height="22.50" fill="#b0dd2f"/>
<rect x="488.50" y="215.12" width="9.95" height="22.50" fill="#1e9c89"/>
<rect x="498.40" y="215.12" width="9.95" height="22.50" fill="#ece51b"/>
<rect x="508.30" y="215.12" width="9.95" height="22.50" fill="#5ec962"/>
<rect x="518.20" y="215.12" width="9.95" height="22.50" fill="#9bd93c"/>
<rect x="528.10" y="215.12" width="9.95" height="22.50" fill="#2f6c8e"/>
<rect x="538.00" y="215.12" width="9.95" height="22.50" fill="#471365"/>
<rect x="547.90" y="215.12" width="9.95" height="22.50" fill="#fde725"/>
<rect x="557.80" y="215.12" width="9.95" height="22.50" fill="#355f8d"/>
<rect x="567.70" y="215.12" width="9.95" height="22.50" fill="#482475"/>
<rect x="577.60" y="215.12" width="9.95" height="22.50" fill="#25848e"/>
<rect x="92.50" y="237.57" width="9.95" height="22.50" fill="#355f8d"/>
<rect x="102.40" y="237.57" width="9.95" height="22.50" fill="#2d718e"/>
<rect x="112.30" y="237.57" width="9.95" height="22.50" fill="#355f8d"/>
<rect x="122.20" y="237.57" width="9.95" height="22.50" fill="#38588c"/>
<rect x="132.10" y="237.57" width="9.95" height="22.50" fill="#355f8d"/>
<rect x="142.00" y="237.57" width="9.95" height="22.50" fill="#355f8d"/>
<rect x="151.90" y="237.57" width="9.95" height="22.50" fill="#2f6c8e"/>
<rect x="161.80" y="237.57" width="9.95" height="22.50" fill="#3b528b"/>
<rect x="171.70" y="237.57" width="9.95" height="22.50" fill="#46085c"/>
<rect x="181.60" y="237.57" width="9.95" height="22.50" fill="#32648e"/>
<rect x="191.50" y="237.57" width="9.95" height="22.50" fill="#2f6c8e"/>
<rect x="201.40" y="237.57" width="9.95" height="22.50" fill="#287d8e"/>
<rect x="211.30" y="237.57" width="9.95" height="22.50" fill="#287d8e"/>
<rect x="221.20" y="237.57" width="9.95" height="22.50" fill="#287d8e"/>
<rect x="231.10" y="237.57" width="9.95" height="22.50" fill="#287d8e"/>
<rect x="241.00" y="237.57" width="9.95" height="22.50" fill="#31678e"/>
<rect x="250.90" y="237.57" width="9.95" height="22.50" fill="#31678e"/>
<rect x="260.80" y="237.57" width="9.95" height="22.50" fill="#2d718e"/>
<rect x="270.70" y="237.57" width="9.95" height="22.50" fill="#414487"/>
<rect x="280.60" y="237.57" width="9.95" height="22.50" fill="#2f6c8e"/>
<rect x="290.50" y="237.57" width="9.95" height="22.50" fill="#2f6c8e"/>
<rect x="300.40" y="237.57" width="9.95" height="22.50" fill="#31678e"/>
<rect x="310.30" y="237.57" width="9.95" height="22.50" fill="#355f8d"/>
<rect x="320.20" y="237.57" width="9.95" height="22.50" fill="#287d8e"/>
<rect x="330.10" y="237.57" width="9.95" height="22.50" fill="#2d718e"/>
<rect x="340.00" y="237.57" width="9.95" height="22.50" fill="#414487"/>
<rect x="349.90" y="237.57" width="9.95" height="22.50" fill="#414487"/>
<rect x="359.80" y="237.57" width="9.95" height="22.50" fill="#21918c"/>
<rect x="369.70" y="237.57" width="9.95" height="22.50" fill="#2a788e"/>
<rect x="379.60" y="237.57" width="9.95" height="22.50" fill="#38588c"/>
<rect x="389.50" y="237.57" width="9.95" height="22.50" fill="#38588c"/>
<rect x="399.40" y="237.57" width="9.95" height="22.50" fill="#414487"/>
<rect x="409.30" y="237.57" width="9.95" height="22.50" fill="#355f8d"/>
<rect x="419.20" y="237.57" width="9.95" height="22.50" fill="#6ece58"/>
<rect x="429.10" y="237.57" width="9.95" height="22.50" fill="#fde725"/>
<rect x="439.00" y="237.57" width="9.95" height="22.50" fill="#26ad81"/>
<rect x="448.90" y="237.57" width="9.95" height="22.50" fill="#21918c"/>
<rect x="458.80" y="237.57" width="9.95" height="22.50" fill="#2fb47c"/>
<rect x="468.70" y="237.57" width="9.95" height="22.50" fill="#1e9c89"/>
<rect x="478.60" y="237.57" width="9.95" height="22.50" fill="#44bf70"/>
<rect x="488.50" y="237.57" width="9.95" height="22.50" fill="#25848e"/>
<rect x="498.40" y="237.57" width="9.95" height="22.50" fill="#7ad151"/>
<rect x="508.30" y="237.57" width="9.95" height="22.50" fill="#22a884"/>
<rect x="518.20" y="237.57" width="9.95" height="22.50" fill="#2fb47c"/>
<rect x="528.10" y="237.57" width="9.95" height="22.50" fill="#38588c"/>
<rect x="538.00" y="237.57" width="9.95" height="22.50" fill="#414487"/>
<rect x="547.90" y="237.57" width="9.95" height="22.50" fill="#fde725"/>
<rect x="557.80" y="237.57" width="9.95" height="22.50" fill="#3b528b"/>
<rect x="567.70" y="237.57" width="9.95" height="22.50" fill="#3b528b"/>
<rect x="577.60" y="237.57" width="9.95" height="22.50" fill="#355f8d"/>
<rect x="92.50" y="260.02" width="9.95" height="22.50" fill="#472e7c"/>
<rect x="102.40" y="260.02" width="9.95" height="22.50" fill="#46085c"/>
<rect x="112.30" y="260.02" width="9.95" height="22.50" fill="#3b528b"/>
<rect x="122.20" y="260.02" width="9.95" height="22.50" fill="#463480"/>
<rect x="132.10" y="260.02" width="9.95" height="22.50" fill="#3b528b"/>
<rect x="142.00" y="260.02" width="9.95" height="22.50" fill="#482475"/>
<rect x="151.90" y="260.02" width="9.95" height="22.50" fill="#414487"/>
<rect x="161.80" y="260.02" width="9.95" height="22.50" fill="#414487"/>
<rect x="171.70" y="260.02" width="9.95" height="22.50" fill="#2f6c8e"/>
<rect x="181.60" y="260.02" width="9.95" height="22.50" fill="#38588c"/>
<rect x="191.50" y="260.02" width="9.95" height="22.50" fill="#443a83"/>
<rect x="201.40" y="260.02" width="9.95" height="22.50" fill="#355f8d"/>
<rect x="211.30" y="260.02" width="9.95" height="22.50" fill="#3e4c8a"/>
<rect x="221.20" y="260.02" width="9.95" height="22.50" fill="#2c738e"/>
<rect x="231.10" y="260.02" width="9.95" height="22.50" fill="#2c738e"/>
<rect x="241.00" y="260.02" width="9.95" height="22.50" fill="#3b528b"/>
<rect x="250.90" y="260.02" width="9.95" height="22.50" fill="#31678e"/>
<rect x="260.80" y="260.02" width="9.95" height="22.50" fill="#2f6c8e"/>
<rect x="270.70" y="260.02" width="9.95" height="22.50" fill="#355f8d"/>
<rect x="280.60" y="260.02" width="9.95" height="22.50" fill="#2a788e"/>
<rect x="290.50" y="260.02" width="9.95" height="22.50" fill="#414487"/>
<rect x="300.40" y="260.02" width="9.95" height="22.50" fill="#414487"/>
<rect x="310.30" y="260.02" width="9.95" height="22.50" fill="#38588c"/>
<rect x="320.20" y="260.02" width="9.95" height="22.50" fill="#2a788e"/>
<rect x="330.10" y="260.02" width="9.95" height="22.50" fill="#31678e"/>
<rect x="340.00" y="260.02" width="9.95" height="22.50" fill="#463480"/>
<rect x="349.90" y="260.02" width="9.95" height="22.50" fill="#3b528b"/>
<rect x="359.80" y="260.02" width="9.95" height="22.50" fill="#2f6c8e"/>
<rect x="369.70" y="260.02" width="9.95" height="22.50" fill="#287d8e"/>
<rect x="379.60" y="260.02" width="9.95" height="22.50" fill="#355f8d"/>
<rect x="389.50" y="260.02" width="9.95" height="22.50" fill="#414487"/>
<rect x="399.40" y="260.02" width="9.95" height="22.50" fill="#414487"/>
<rect x="409.30" y="260.02" width="9.95" height="22.50" fill="#3e4989"/>
<rect x="419.20" y="260.02" width="9.95" height="22.50" fill="#86d549"/>
<rect x="429.10" y="260.02" width="9.95" height="22.50" fill="#fde725"/>
<rect x="439.00" y="260.02" width="9.95" height="22.50" fill="#22a884"/>
<rect x="448.90" y="260.02" width="9.95" height="22.50" fill="#2f6c8e"/>
<rect x="458.80" y="260.02" width="9.95" height="22.50" fill="#21918c"/>
<rect x="468.70" y="260.02" width="9.95" height="22.50" fill="#25848e"/>
<rect x="478.60" y="260.02" width="9.95" height="22.50" fill="#2a788e"/>
<rect x="488.50" y="260.02" width="9.95" height="22.50" fill="#2f6c8e"/>
<rect x="498.40" y="260.02" width="9.95" height="22.50" fill="#5ec962"/>
<rect x="508.30" y="260.02" width="9.95" height="22.50" fill="#25848e"/>
<rect x="518.20" y="260.02" width="9.95" height="22.50" fill="#25848e"/>
<rect x="528.10" y="260.02" width="9.95" height="22.50" fill="#3b528b"/>
<rect x="538.00" y="260.02" width="9.95" height="22.50" fill="#463480"/>
<rect x="547.90" y="260.02" width="9.95" height="22.50" fill="#fde725"/>
<rect x="557.80" y="260.02" width="9.95" height="22.50" fill="#3e4989"/>
<rect x="567.70" y="260.02" width="9.95" height="22.50" fill="#355f8d"/>
<rect x="577.60" y="260.02" width="9.95" height="22.50" fill="#375a8c"/>
<rect x="92.50" y="282.46" width="9.95" height="22.50" fill="#471365"/>
<rect x="102.40" y="282.46" width="9.95" height="22.50" fill="#481a6c"/>
<rect x="112.30" y="282.46" width="9.95" height="22.50" fill="#3e4989"/>
<rect x="122.20" y="282.46" width="9.95" height="22.50" fill="#463480"/>
<rect x="132.10" y="282.46" width="9.95" height="22.50" fill="#414487"/>
<rect x="142.00" y="282.46" width="9.95" height="22.50" fill="#481d6f"/>
<rect x="151.90" y="282.46" width="9.95" height="22.50" fill="#472e7c"/>
<rect x="161.80" y="282.46" width="9.95" height="22.50" fill="#472a7a"/>
<rect x="171.70" y="282.46" width="9.95" height="22.50" fill="#463480"/>
<rect x="181.60" y="282.46" width="9.95" height="22.50" fill="#3b528b"/>
<rect x="191.50" y="282.46" width="9.95" height="22.50" fill="#46085c"/>
<rect x="201.40" y="282.46" width="9.95" height="22.50" fill="#38588c"/>
<rect x="211.30" y="282.46" width="9.95" height="22.50" fill="#32648e"/>
<rect x="221.20" y="282.46" width="9.95" height="22.50" fill="#414487"/>
<rect x="231.10" y="282.46" width="9.95" height="22.50" fill="#2c738e"/>
<rect x="241.00" y="282.46" width="9.95" height="22.50" fill="#443a83"/>
<rect x="250.90" y="282.46" width="9.95" height="22.50" fill="#355f8d"/>
<rect x="260.80" y="282.46" width="9.95" height="22.50" fill="#2c738e"/>
<rect x="270.70" y="282.46" width="9.95" height="22.50" fill="#3e4989"/>
<rect x="280.60" y="282.46" width="9.95" height="22.50" fill="#38588c"/>
<rect x="290.50" y="282.46" width="9.95" height="22.50" fill="#471365"/>
<rect x="300.40" y="282.46" width="9.95" height="22.50" fill="#414487"/>
<rect x="310.30" y="282.46" width="9.95" height="22.50" fill="#443a83"/>
<rect x="320.20" y="282.46" width="9.95" height="22.50" fill="#414487"/>
<rect x="330.10" y="282.46" width="9.95" height="22.50" fill="#3e4c8a"/>
<rect x="340.00" y="282.46" width="9.95" height="22.50" fill="#443a83"/>
<rect x="349.90" y="282.46" width="9.95" height="22.50" fill="#38588c"/>
<rect x="359.80" y="282.46" width="9.95" height="22.50" fill="#2f6c8e"/>
<rect x="369.70" y="282.46" width="9.95" height="22.50" fill="#443a83"/>
<rect x="379.60" y="282.46" width="9.95" height="22.50" fill="#3e4c8a"/>
<rect x="389.50" y="282.46" width="9.95" height="22.50" fill="#414487"/>
<rect x="399.40" y="282.46" width="9.95" height="22.50" fill="#482475"/>
<rect x="409.30" y="282.46" width="9.95" height="22.50" fill="#414487"/>
<rect x="419.20" y="282.46" width="9.95" height="22.50" fill="#9bd93c"/>
<rect x="429.10" y="282.46" width="9.95" height="22.50" fill="#fde725"/>
<rect x="439.00" y="282.46" width="9.95" height="22.50" fill="#2f6c8e"/>
<rect x="448.90" y="282.46" width="9.95" height="22.50" fill="#355f8d"/>
<rect x="458.80" y="282.46" width="9.95" height="22.50" fill="#1f958b"/>
<rect x="468.70" y="282.46" width="9.95" height="22.50" fill="#1f958b"/>
<rect x="478.60" y="282.46" width="9.95" height="22.50" fill="#25848e"/>
<rect x="488.50" y="282.46" width="9.95" height="22.50" fill="#2a788e"/>
<rect x="498.40" y="282.46" width="9.95" height="22.50" fill="#7ad151"/>
<rect x="508.30" y="282.46" width="9.95" height="22.50" fill="#2a788e"/>
<rect x="518.20" y="282.46" width="9.95" height="22.50" fill="#25848e"/>
<rect x="528.10" y="282.46" width="9.95" height="22.50" fill="#463480"/>
<rect x="538.00" y="282.46" width="9.95" height="22.50" fill="#463480"/>
<rect x="547.90" y="282.46" width="9.95" height="22.50" fill="#fde725"/>
<rect x="557.80" y="282.46" width="9.95" height="22.50" fill="#414487"/>
<rect x="567.70" y="282.46" width="9.95" height="22.50" fill="#38588c"/>
<rect x="577.60" y="282.46" width="9.95" height="22.50" fill="#3b528b"/>
<rect x="92.50" y="304.91" width="9.95" height="22.50" fill="#375a8c"/>
<rect x="102.40" y="304.91" width="9.95" height="22.50" fill="#375a8c"/>
<rect x="112.30" y="304.91" width="9.95" height="22.50" fill="#2d718e"/>
<rect x="122.20" y="304.91" width="9.95" height="22.50" fill="#375a8c"/>
<rect x="132.10" y="304.91" width="9.95" height="22.50" fill="#31678e"/>
<rect x="142.00" y="304.91" width="9.95" height="22.50" fill="#355f8d"/>
<rect x="151.90" y="304.91" width="9.95" height="22.50" fill="#3b528b"/>
<rect x="161.80" y="304.91" width="9.95" height="22.50" fill="#2a788e"/>
<rect x="171.70" y="304.91" width="9.95" height="22.50" fill="#3b528b"/>
<rect x="181.60" y="304.91" width="9.95" height="22.50" fill="#2d718e"/>
<rect x="191.50" y="304.91" width="9.95" height="22.50" fill="#287d8e"/>
<rect x="201.40" y="304.91" width="9.95" height="22.50" fill="#25848e"/>
<rect x="211.30" y="304.91" width="9.95" height="22.50" fill="#25848e"/>
<rect x="221.20" y="304.91" width="9.95" height="22.50" fill="#25848e"/>
<rect x="231.10" y="304.91" width="9.95" height="22.50" fill="#1e9c89"/>
<rect x="241.00" y="304.91" width="9.95" height="22.50" fill="#1e9c89"/>
<rect x="250.90" y="304.91" width="9.95" height="22.50" fill="#21918c"/>
<rect x="260.80" y="304.91" width="9.95" height="22.50" fill="#1e9c89"/>
<rect x="270.70" y="304.91" width="9.95" height="22.50" fill="#287d8e"/>
<rect x="280.60" y="304.91" width="9.95" height="22.50" fill="#26ad81"/>
<rect x="290.50" y="304.91" width="9.95" height="22.50" fill="#2a788e"/>
<rect x="300.40" y="304.91" width="9.95" height="22.50" fill="#2d718e"/>
<rect x="310.30" y="304.91" width="9.95" height="22.50" fill="#23898e"/>
<rect x="320.20" y="304.91" width="9.95" height="22.50" fill="#21918c"/>
<rect x="330.10" y="304.91" width="9.95" height="22.50" fill="#1e9c89"/>
<rect x="340.00" y="304.91" width="9.95" height="22.50" fill="#2f6c8e"/>
<rect x="349.90" y="304.91" width="9.95" height="22.50" fill="#2f6c8e"/>
<rect x="359.80" y="304.91" width="9.95" height="22.50" fill="#22a884"/>
<rect x="369.70" y="304.91" width="9.95" height="22.50" fill="#1f958b"/>
<rect x="379.60" y="304.91" width="9.95" height="22.50" fill="#21918c"/>
<rect x="389.50" y="304.91" width="9.95" height="22.50" fill="#3e4989"/>
<rect x="399.40" y="304.91" width="9.95" height="22.50" fill="#2f6c8e"/>
<rect x="409.30" y="304.91" width="9.95" height="22.50" fill="#31678e"/>
<rect x="419.20" y="304.91" width="9.95" height="22.50" fill="#4ec36b"/>
<rect x="429.10" y="304.91" width="9.95" height="22.50" fill="#fde725"/>
<rect x="439.00" y="304.91" width="9.95" height="22.50" fill="#2d718e"/>
<rect x="448.90" y="304.91" width="9.95" height="22.50" fill="#23898e"/>
<rect x="458.80" y="304.91" width="9.95" height="22.50" fill="#1e9c89"/>
<rect x="468.70" y="304.91" width="9.95" height="22.50" fill="#23898e"/>
<rect x="478.60" y="304.91" width="9.95" height="22.50" fill="#1e9c89"/>
<rect x="488.50" y="304.91" width="9.95" height="22.50" fill="#23898e"/>
<rect x="498.40" y="304.91" width="9.95" height="22.50" fill="#7ad151"/>
<rect x="508.30" y="304.91" width="9.95" height="22.50" fill="#22a884"/>
<rect x="518.20" y="304.91" width="9.95" height="22.50" fill="#1e9c89"/>
<rect x="528.10" y="304.91" width="9.95" height="22.50" fill="#355f8d"/>
<rect x="538.00" y="304.91" width="9.95" height="22.50" fill="#46085c"/>
<rect x="547.90" y="304.91" width="9.95" height="22.50" fill="#fde725"/>
<rect x="557.80" y="304.91" width="9.95" height="22.50" fill="#2f6c8e"/>
<rect x="567.70" y="304.91" width="9.95" height="22.50" fill="#3e4989"/>
<rect x="577.60" y="304.91" width="9.95" height="22.50" fill="#287d8e"/>
<rect x="92.50" y="327.36" width="9.95" height="22.50" fill="#355f8d"/>
<rect x="102.40" y="327.36" width="9.95" height="22.50" fill="#3e4989"/>
<rect x="112.30" y="327.36" width="9.95" height="22.50" fill="#2f6c8e"/>
<rect x="122.20" y="327.36" width="9.95" height="22.50" fill="#463480"/>
<rect x="132.10" y="327.36" width="9.95" height="22.50" fill="#31678e"/>
<rect x="142.00" y="327.36" width="9.95" height="22.50" fill="#31678e"/>
<rect x="151.90" y="327.36" width="9.95" height="22.50" fill="#31678e"/>
<rect x="161.80" y="327.36" width="9.95" height="22.50" fill="#3e4989"/>
<rect x="171.70" y="327.36" width="9.95" height="22.50" fill="#414487"/>
<rect x="181.60" y="327.36" width="9.95" height="22.50" fill="#38588c"/>
<rect x="191.50" y="327.36" width="9.95" height="22.50" fill="#31678e"/>
<rect x="201.40" y="327.36" width="9.95" height="22.50" fill="#31678e"/>
<rect x="211.30" y="327.36" width="9.95" height="22.50" fill="#20a386"/>
<rect x="221.20" y="327.36" width="9.95" height="22.50" fill="#2d718e"/>
<rect x="231.10" y="327.36" width="9.95" height="22.50" fill="#21918c"/>
<rect x="241.00" y="327.36" width="9.95" height="22.50" fill="#414487"/>
<rect x="250.90" y="327.36" width="9.95" height="22.50" fill="#3e4989"/>
<rect x="260.80" y="327.36" width="9.95" height="22.50" fill="#2d718e"/>
<rect x="270.70" y="327.36" width="9.95" height="22.50" fill="#2d718e"/>
<rect x="280.60" y="327.36" width="9.95" height="22.50" fill="#25848e"/>
<rect x="290.50" y="327.36" width="9.95" height="22.50" fill="#2f6c8e"/>
<rect x="300.40" y="327.36" width="9.95" height="22.50" fill="#414487"/>
<rect x="310.30" y="327.36" width="9.95" height="22.50" fill="#2d718e"/>
<rect x="320.20" y="327.36" width="9.95" height="22.50" fill="#2a788e"/>
<rect x="330.10" y="327.36" width="9.95" height="22.50" fill="#2a788e"/>
<rect x="340.00" y="327.36" width="9.95" height="22.50" fill="#443a83"/>
<rect x="349.90" y="327.36" width="9.95" height="22.50" fill="#46085c"/>
<rect x="359.80" y="327.36" width="9.95" height="22.50" fill="#31678e"/>
<rect x="369.70" y="327.36" width="9.95" height="22.50" fill="#2d718e"/>
<rect x="379.60" y="327.36" width="9.95" height="22.50" fill="#3e4989"/>
<rect x="389.50" y="327.36" width="9.95" height="22.50" fill="#3e4989"/>
<rect x="399.40" y="327.36" width="9.95" height="22.50" fill="#38588c"/>
<rect x="409.30" y="327.36" width="9.95" height="22.50" fill="#472a7a"/>
<rect x="419.20" y="327.36" width="9.95" height="22.50" fill="#37b878"/>
<rect x="429.10" y="327.36" width="9.95" height="22.50" fill="#fde725"/>
<rect x="439.00" y="327.36" width="9.95" height="22.50" fill="#1e9c89"/>
<rect x="448.90" y="327.36" width="9.95" height="22.50" fill="#287d8e"/>
<rect x="458.80" y="327.36" width="9.95" height="22.50" fill="#4ec36b"/>
<rect x="468.70" y="327.36" width="9.95" height="22.50" fill="#1fa188"/>
<rect x="478.60" y="327.36" width="9.95" height="22.50" fill="#1e9c89"/>
<rect x="488.50" y="327.36" width="9.95" height="22.50" fill="#414487"/>
<rect x="498.40" y="327.36" width="9.95" height="22.50" fill="#cae11f"/>
<rect x="508.30" y="327.36" width="9.95" height="22.50" fill="#23898e"/>
<rect x="518.20" y="327.36" width="9.95" height="22.50" fill="#26ad81"/>
<rect x="528.10" y="327.36" width="9.95" height="22.50" fill="#414487"/>
<rect x="538.00" y="327.36" width="9.95" height="22.50" fill="#433e85"/>
<rect x="547.90" y="327.36" width="9.95" height="22.50" fill="#fde725"/>
<rect x="557.80" y="327.36" width="9.95" height="22.50" fill="#460b5e"/>
<rect x="567.70" y="327.36" width="9.95" height="22.50" fill="#2f6c8e"/>
<rect x="577.60" y="327.36" width="9.95" height="22.50" fill="#3e4989"/>
<rect x="92.50" y="349.81" width="9.95" height="22.50" fill="#443a83"/>
<rect x="102.40" y="349.81" width="9.95" height="22.50" fill="#3e4989"/>
<rect x="112.30" y="349.81" width="9.95" height="22.50" fill="#472a7a"/>
<rect x="122.20" y="349.81" width="9.95" height="22.50" fill="#414487"/>
<rect x="132.10" y="349.81" width="9.95" height="22.50" fill="#463480"/>
<rect x="142.00" y="349.81" width="9.95" height="22.50" fill="#3e4989"/>
<rect x="151.90" y="349.81" width="9.95" height="22.50" fill="#3e4989"/>
<rect x="161.80" y="349.81" width="9.95" height="22.50" fill="#443a83"/>
<rect x="171.70" y="349.81" width="9.95" height="22.50" fill="#463480"/>
<rect x="181.60" y="349.81" width="9.95" height="22.50" fill="#3e4989"/>
<rect x="191.50" y="349.81" width="9.95" height="22.50" fill="#463480"/>
<rect x="201.40" y="349.81" width="9.95" height="22.50" fill="#3b528b"/>
<rect x="211.30" y="349.81" width="9.95" height="22.50" fill="#355f8d"/>
<rect x="221.20" y="349.81" width="9.95" height="22.50" fill="#1e9c89"/>
<rect x="231.10" y="349.81" width="9.95" height="22.50" fill="#443a83"/>
<rect x="241.00" y="349.81" width="9.95" height="22.50" fill="#32648e"/>
<rect x="250.90" y="349.81" width="9.95" height="22.50" fill="#32648e"/>
<rect x="260.80" y="349.81" width="9.95" height="22.50" fill="#355f8d"/>
<rect x="270.70" y="349.81" width="9.95" height="22.50" fill="#472e7c"/>
<rect x="280.60" y="349.81" width="9.95" height="22.50" fill="#355f8d"/>
<rect x="290.50" y="349.81" width="9.95" height="22.50" fill="#414487"/>
<rect x="300.40" y="349.81" width="9.95" height="22.50" fill="#414487"/>
<rect x="310.30" y="349.81" width="9.95" height="22.50" fill="#482475"/>
<rect x="320.20" y="349.81" width="9.95" height="22.50" fill="#1e9c89"/>
<rect x="330.10" y="349.81" width="9.95" height="22.50" fill="#471365"/>
<rect x="340.00" y="349.81" width="9.95" height="22.50" fill="#463480"/>
<rect x="349.90" y="349.81" width="9.95" height="22.50" fill="#463480"/>
<rect x="359.80" y="349.81" width="9.95" height="22.50" fill="#38588c"/>
<rect x="369.70" y="349.81" width="9.95" height="22.50" fill="#1e9c89"/>
<rect x="379.60" y="349.81" width="9.95" height="22.50" fill="#2d718e"/>
<rect x="389.50" y="349.81" width="9.95" height="22.50" fill="#3b528b"/>
<rect x="399.40" y="349.81" width="9.95" height="22.50" fill="#443a83"/>
<rect x="409.30" y="349.81" width="9.95" height="22.50" fill="#472a7a"/>
<rect x="419.20" y="349.81" width="9.95" height="22.50" fill="#7ad151"/>
<rect x="429.10" y="349.81" width="9.95" height="22.50" fill="#d2e21b"/>
<rect x="439.00" y="349.81" width="9.95" height="22.50" fill="#2fb47c"/>
<rect x="448.90" y="349.81" width="9.95" height="22.50" fill="#23898e"/>
<rect x="458.80" y="349.81" width="9.95" height="22.50" fill="#5ec962"/>
<rect x="468.70" y="349.81" width="9.95" height="22.50" fill="#5ec962"/>
<rect x="478.60" y="349.81" width="9.95" height="22.50" fill="#287d8e"/>
<rect x="488.50" y="349.81" width="9.95" height="22.50" fill="#1e9c89"/>
<rect x="498.40" y="349.81" width="9.95" height="22.50" fill="#9bd93c"/>
<rect x="508.30" y="349.81" width="9.95" height="22.50" fill="#44bf70"/>
<rect x="518.20" y="349.81" width="9.95" height="22.50" fill="#5ec962"/>
<rect x="528.10" y="349.81" width="9.95" height="22.50" fill="#2f6c8e"/>
<rect x="538.00" y="349.81" width="9.95" height="22.50" fill="#46085c"/>
<rect x="547.90" y="349.81" width="9.95" height="22.50" fill="#fde725"/>
<rect x="557.80" y="349.81" width="9.95" height="22.50" fill="#472a7a"/>
<rect x="567.70" y="349.81" width="9.95" height="22.50" fill="#2a788e"/>
<rect x="577.60" y="349.81" width="9.95" height="22.50" fill="#38588c"/>
<rect x="92.50" y="372.25" width="9.95" height="22.50" fill="#460b5e"/>
<rect x="102.40" y="372.25" width="9.95" height="22.50" fill="#443a83"/>
<rect x="112.30" y="372.25" width="9.95" height="22.50" fill="#443a83"/>
<rect x="122.20" y="372.25" width="9.95" height="22.50" fill="#443a83"/>
<rect x="132.10" y="372.25" width="9.95" height="22.50" fill="#3b528b"/>
<rect x="142.00" y="372.25" width="9.95" height="22.50" fill="#482475"/>
<rect x="151.90" y="372.25" width="9.95" height="22.50" fill="#443a83"/>
<rect x="161.80" y="372.25" width="9.95" height="22.50" fill="#463480"/>
<rect x="171.70" y="372.25" width="9.95" height="22.50" fill="#481d6f"/>
<rect x="181.60" y="372.25" width="9.95" height="22.50" fill="#38588c"/>
<rect x="191.50" y="372.25" width="9.95" height="22.50" fill="#2a788e"/>
<rect x="201.40" y="372.25" width="9.95" height="22.50" fill="#31678e"/>
<rect x="211.30" y="372.25" width="9.95" height="22.50" fill="#2f6c8e"/>
<rect x="221.20" y="372.25" width="9.95" height="22.50" fill="#2a788e"/>
<rect x="231.10" y="372.25" width="9.95" height="22.50" fill="#2a788e"/>
<rect x="241.00" y="372.25" width="9.95" height="22.50" fill="#2a788e"/>
<rect x="250.90" y="372.25" width="9.95" height="22.50" fill="#2a788e"/>
<rect x="260.80" y="372.25" width="9.95" height="22.50" fill="#2d718e"/>
<rect x="270.70" y="372.25" width="9.95" height="22.50" fill="#355f8d"/>
<rect x="280.60" y="372.25" width="9.95" height="22.50" fill="#287d8e"/>
<rect x="290.50" y="372.25" width="9.95" height="22.50" fill="#414487"/>
<rect x="300.40" y="372.25" width="9.95" height="22.50" fill="#463480"/>
<rect x="310.30" y="372.25" width="9.95" height="22.50" fill="#375a8c"/>
<rect x="320.20" y="372.25" width="9.95" height="22.50" fill="#21918c"/>
<rect x="330.10" y="372.25" width="9.95" height="22.50" fill="#31678e"/>
<rect x="340.00" y="372.25" width="9.95" height="22.50" fill="#460b5e"/>
<rect x="349.90" y="372.25" width="9.95" height="22.50" fill="#443a83"/>
<rect x="359.80" y="372.25" width="9.95" height="22.50" fill="#2c738e"/>
<rect x="369.70" y="372.25" width="9.95" height="22.50" fill="#21918c"/>
<rect x="379.60" y="372.25" width="9.95" height="22.50" fill="#21918c"/>
<rect x="389.50" y="372.25" width="9.95" height="22.50" fill="#472e7c"/>
<rect x="399.40" y="372.25" width="9.95" height="22.50" fill="#3e4989"/>
<rect x="409.30" y="372.25" width="9.95" height="22.50" fill="#472a7a"/>
<rect x="419.20" y="372.25" width="9.95" height="22.50" fill="#6ece58"/>
<rect x="429.10" y="372.25" width="9.95" height="22.50" fill="#ece51b"/>
<rect x="439.00" y="372.25" width="9.95" height="22.50" fill="#1e9c89"/>
<rect x="448.90" y="372.25" width="9.95" height="22.50" fill="#287d8e"/>
<rect x="458.80" y="372.25" width="9.95" height="22.50" fill="#21918c"/>
<rect x="468.70" y="372.25" width="9.95" height="22.50" fill="#1e9c89"/>
<rect x="478.60" y="372.25" width="9.95" height="22.50" fill="#287d8e"/>
<rect x="488.50" y="372.25" width="9.95" height="22.50" fill="#21918c"/>
<rect x="498.40" y="372.25" width="9.95" height="22.50" fill="#7ad151"/>
<rect x="508.30" y="372.25" width="9.95" height="22.50" fill="#3bbb75"/>
<rect x="518.20" y="372.25" width="9.95" height="22.50" fill="#3bbb75"/>
<rect x="528.10" y="372.25" width="9.95" height="22.50" fill="#3b528b"/>
<rect x="538.00" y="372.25" width="9.95" height="22.50" fill="#31678e"/>
<rect x="547.90" y="372.25" width="9.95" height="22.50" fill="#fde725"/>
<rect x="557.80" y="372.25" width="9.95" height="22.50" fill="#355f8d"/>
<rect x="567.70" y="372.25" width="9.95" height="22.50" fill="#2a788e"/>
<rect x="577.60" y="372.25" width="9.95" height="22.50" fill="#287d8e"/>
</g>
<line x1="191.50" y1="13.1" x2="191.50" y2="394.7" stroke="#fff" stroke-width="1.6"/>
<line x1="300.40" y1="13.1" x2="300.40" y2="394.7" stroke="#fff" stroke-width="1.6"/>
<line x1="419.20" y1="13.1" x2="419.20" y2="394.7" stroke="#fff" stroke-width="1.6"/>
<line x1="488.50" y1="13.1" x2="488.50" y2="394.7" stroke="#fff" stroke-width="1.6"/>
<rect x="92.5" y="13.1" width="495.0" height="381.59999999999997" fill="none" stroke="#000" stroke-width="0.8"/>
<line x1="89.60" y1="24.32" x2="92.5" y2="24.32" stroke="#000" stroke-width="0.8"/>
<text transform="translate(86.30,27.73) scale(1,1.03)" font-size="8.5" text-anchor="end">UKESM1-0-LL</text>
<line x1="89.60" y1="46.77" x2="92.5" y2="46.77" stroke="#000" stroke-width="0.8"/>
<text transform="translate(86.30,50.18) scale(1,1.03)" font-size="8.5" text-anchor="end">NorESM2-MM</text>
<line x1="89.60" y1="69.22" x2="92.5" y2="69.22" stroke="#000" stroke-width="0.8"/>
<text transform="translate(86.30,72.63) scale(1,1.03)" font-size="8.5" text-anchor="end">NESM3</text>
<line x1="89.60" y1="91.66" x2="92.5" y2="91.66" stroke="#000" stroke-width="0.8"/>
<text transform="translate(86.30,95.07) scale(1,1.03)" font-size="8.5" text-anchor="end">MRI-ESM2-0</text>
<line x1="89.60" y1="114.11" x2="92.5" y2="114.11" stroke="#000" stroke-width="0.8"/>
<text transform="translate(86.30,117.52) scale(1,1.03)" font-size="8.5" text-anchor="end">MPI-ESM1-2-LR</text>
<line x1="89.60" y1="136.56" x2="92.5" y2="136.56" stroke="#000" stroke-width="0.8"/>
<text transform="translate(86.30,139.97) scale(1,1.03)" font-size="8.5" text-anchor="end">MPI-ESM1-2-HR</text>
<line x1="89.60" y1="159.01" x2="92.5" y2="159.01" stroke="#000" stroke-width="0.8"/>
<text transform="translate(86.30,162.41) scale(1,1.03)" font-size="8.5" text-anchor="end">IPSL-CM6A-LR</text>
<line x1="89.60" y1="181.45" x2="92.5" y2="181.45" stroke="#000" stroke-width="0.8"/>
<text transform="translate(86.30,184.86) scale(1,1.03)" font-size="8.5" text-anchor="end">INM-CM4-8</text>
<line x1="89.60" y1="203.90" x2="92.5" y2="203.90" stroke="#000" stroke-width="0.8"/>
<text transform="translate(86.30,207.31) scale(1,1.03)" font-size="8.5" text-anchor="end">GISS-E2-1-G</text>
<line x1="89.60" y1="226.35" x2="92.5" y2="226.35" stroke="#000" stroke-width="0.8"/>
<text transform="translate(86.30,229.76) scale(1,1.03)" font-size="8.5" text-anchor="end">GFDL-ESM4</text>
<line x1="89.60" y1="248.79" x2="92.5" y2="248.79" stroke="#000" stroke-width="0.8"/>
<text transform="translate(86.30,252.20) scale(1,1.03)" font-size="8.5" text-anchor="end">EC-Earth3-Veg-LR</text>
<line x1="89.60" y1="271.24" x2="92.5" y2="271.24" stroke="#000" stroke-width="0.8"/>
<text transform="translate(86.30,274.65) scale(1,1.03)" font-size="8.5" text-anchor="end">EC-Earth3</text>
<line x1="89.60" y1="293.69" x2="92.5" y2="293.69" stroke="#000" stroke-width="0.8"/>
<text transform="translate(86.30,297.10) scale(1,1.03)" font-size="8.5" text-anchor="end">CanESM5</text>
<line x1="89.60" y1="316.14" x2="92.5" y2="316.14" stroke="#000" stroke-width="0.8"/>
<text transform="translate(86.30,319.54) scale(1,1.03)" font-size="8.5" text-anchor="end">CNRM-CM6-1</text>
<line x1="89.60" y1="338.58" x2="92.5" y2="338.58" stroke="#000" stroke-width="0.8"/>
<text transform="translate(86.30,341.99) scale(1,1.03)" font-size="8.5" text-anchor="end">BCC-CSM2-MR</text>
<line x1="89.60" y1="361.03" x2="92.5" y2="361.03" stroke="#000" stroke-width="0.8"/>
<text transform="translate(86.30,364.44) scale(1,1.03)" font-size="8.5" text-anchor="end">ACCESS-ESM1-5</text>
<line x1="89.60" y1="383.48" x2="92.5" y2="383.48" stroke="#000" stroke-width="0.8"/>
<text transform="translate(86.30,386.88) scale(1,1.03)" font-size="8.5" text-anchor="end">ACCESS-CM2</text>
<line x1="97.45" y1="394.7" x2="97.45" y2="397.70" stroke="#000" stroke-width="0.8"/>
<text transform="translate(101.27,401.50) scale(1,0.985) rotate(-90)" font-size="8.4" text-anchor="end">CT</text>
<line x1="107.35" y1="394.7" x2="107.35" y2="397.70" stroke="#000" stroke-width="0.8"/>
<text transform="translate(111.17,401.50) scale(1,0.985) rotate(-90)" font-size="8.4" text-anchor="end">MA</text>
<line x1="117.25" y1="394.7" x2="117.25" y2="397.70" stroke="#000" stroke-width="0.8"/>
<text transform="translate(121.07,401.50) scale(1,0.985) rotate(-90)" font-size="8.4" text-anchor="end">DC-MD-VA(1)</text>
<line x1="127.15" y1="394.7" x2="127.15" y2="397.70" stroke="#000" stroke-width="0.8"/>
<text transform="translate(130.97,401.50) scale(1,0.985) rotate(-90)" font-size="8.4" text-anchor="end">NJ-NY-PA</text>
<line x1="137.05" y1="394.7" x2="137.05" y2="397.70" stroke="#000" stroke-width="0.8"/>
<text transform="translate(140.87,401.50) scale(1,0.985) rotate(-90)" font-size="8.4" text-anchor="end">NJ-PA</text>
<line x1="146.95" y1="394.7" x2="146.95" y2="397.70" stroke="#000" stroke-width="0.8"/>
<text transform="translate(150.77,401.50) scale(1,0.985) rotate(-90)" font-size="8.4" text-anchor="end">NY</text>
<line x1="156.85" y1="394.7" x2="156.85" y2="397.70" stroke="#000" stroke-width="0.8"/>
<text transform="translate(160.67,401.50) scale(1,0.985) rotate(-90)" font-size="8.4" text-anchor="end">CT-NY</text>
<line x1="166.75" y1="394.7" x2="166.75" y2="397.70" stroke="#000" stroke-width="0.8"/>
<text transform="translate(170.57,401.50) scale(1,0.985) rotate(-90)" font-size="8.4" text-anchor="end">DE-NJ-PA</text>
<line x1="176.65" y1="394.7" x2="176.65" y2="397.70" stroke="#000" stroke-width="0.8"/>
<text transform="translate(180.47,401.50) scale(1,0.985) rotate(-90)" font-size="8.4" text-anchor="end">PA</text>
<line x1="186.55" y1="394.7" x2="186.55" y2="397.70" stroke="#000" stroke-width="0.8"/>
<text transform="translate(190.37,401.50) scale(1,0.985) rotate(-90)" font-size="8.4" text-anchor="end">DC-MD-VA(2)</text>
<line x1="196.45" y1="394.7" x2="196.45" y2="397.70" stroke="#000" stroke-width="0.8"/>
<text transform="translate(200.27,401.50) scale(1,0.985) rotate(-90)" font-size="8.4" text-anchor="end">FL(1)</text>
<line x1="206.35" y1="394.7" x2="206.35" y2="397.70" stroke="#000" stroke-width="0.8"/>
<text transform="translate(210.17,401.50) scale(1,0.985) rotate(-90)" font-size="8.4" text-anchor="end">FL(2)</text>
<line x1="216.25" y1="394.7" x2="216.25" y2="397.70" stroke="#000" stroke-width="0.8"/>
<text transform="translate(220.07,401.50) scale(1,0.985) rotate(-90)" font-size="8.4" text-anchor="end">FL(3)</text>
<line x1="226.15" y1="394.7" x2="226.15" y2="397.70" stroke="#000" stroke-width="0.8"/>
<text transform="translate(229.97,401.50) scale(1,0.985) rotate(-90)" font-size="8.4" text-anchor="end">FL(4)</text>
<line x1="236.05" y1="394.7" x2="236.05" y2="397.70" stroke="#000" stroke-width="0.8"/>
<text transform="translate(239.87,401.50) scale(1,0.985) rotate(-90)" font-size="8.4" text-anchor="end">GA</text>
<line x1="245.95" y1="394.7" x2="245.95" y2="397.70" stroke="#000" stroke-width="0.8"/>
<text transform="translate(249.77,401.50) scale(1,0.985) rotate(-90)" font-size="8.4" text-anchor="end">NC(1)</text>
<line x1="255.85" y1="394.7" x2="255.85" y2="397.70" stroke="#000" stroke-width="0.8"/>
<text transform="translate(259.67,401.50) scale(1,0.985) rotate(-90)" font-size="8.4" text-anchor="end">NC(2)</text>
<line x1="265.75" y1="394.7" x2="265.75" y2="397.70" stroke="#000" stroke-width="0.8"/>
<text transform="translate(269.57,401.50) scale(1,0.985) rotate(-90)" font-size="8.4" text-anchor="end">NC-SC</text>
<line x1="275.65" y1="394.7" x2="275.65" y2="397.70" stroke="#000" stroke-width="0.8"/>
<text transform="translate(279.47,401.50) scale(1,0.985) rotate(-90)" font-size="8.4" text-anchor="end">KY-OH</text>
<line x1="285.55" y1="394.7" x2="285.55" y2="397.70" stroke="#000" stroke-width="0.8"/>
<text transform="translate(289.37,401.50) scale(1,0.985) rotate(-90)" font-size="8.4" text-anchor="end">TN</text>
<line x1="295.45" y1="394.7" x2="295.45" y2="397.70" stroke="#000" stroke-width="0.8"/>
<text transform="translate(299.27,401.50) scale(1,0.985) rotate(-90)" font-size="8.4" text-anchor="end">VA</text>
<line x1="305.35" y1="394.7" x2="305.35" y2="397.70" stroke="#000" stroke-width="0.8"/>
<text transform="translate(309.17,401.50) scale(1,0.985) rotate(-90)" font-size="8.4" text-anchor="end">IL-IN</text>
<line x1="315.25" y1="394.7" x2="315.25" y2="397.70" stroke="#000" stroke-width="0.8"/>
<text transform="translate(319.07,401.50) scale(1,0.985) rotate(-90)" font-size="8.4" text-anchor="end">IN</text>
<line x1="325.15" y1="394.7" x2="325.15" y2="397.70" stroke="#000" stroke-width="0.8"/>
<text transform="translate(328.97,401.50) scale(1,0.985) rotate(-90)" font-size="8.4" text-anchor="end">KS-MO(1)</text>
<line x1="335.05" y1="394.7" x2="335.05" y2="397.70" stroke="#000" stroke-width="0.8"/>
<text transform="translate(338.87,401.50) scale(1,0.985) rotate(-90)" font-size="8.4" text-anchor="end">IN-KY</text>
<line x1="344.95" y1="394.7" x2="344.95" y2="397.70" stroke="#000" stroke-width="0.8"/>
<text transform="translate(348.77,401.50) scale(1,0.985) rotate(-90)" font-size="8.4" text-anchor="end">MI-OH</text>
<line x1="354.85" y1="394.7" x2="354.85" y2="397.70" stroke="#000" stroke-width="0.8"/>
<text transform="translate(358.67,401.50) scale(1,0.985) rotate(-90)" font-size="8.4" text-anchor="end">MN</text>
<line x1="364.75" y1="394.7" x2="364.75" y2="397.70" stroke="#000" stroke-width="0.8"/>
<text transform="translate(368.57,401.50) scale(1,0.985) rotate(-90)" font-size="8.4" text-anchor="end">IL-MO</text>
<line x1="374.65" y1="394.7" x2="374.65" y2="397.70" stroke="#000" stroke-width="0.8"/>
<text transform="translate(378.47,401.50) scale(1,0.985) rotate(-90)" font-size="8.4" text-anchor="end">KS-MO(2)</text>
<line x1="384.55" y1="394.7" x2="384.55" y2="397.70" stroke="#000" stroke-width="0.8"/>
<text transform="translate(388.37,401.50) scale(1,0.985) rotate(-90)" font-size="8.4" text-anchor="end">IA-NE</text>
<line x1="394.45" y1="394.7" x2="394.45" y2="397.70" stroke="#000" stroke-width="0.8"/>
<text transform="translate(398.27,401.50) scale(1,0.985) rotate(-90)" font-size="8.4" text-anchor="end">OH(1)</text>
<line x1="404.35" y1="394.7" x2="404.35" y2="397.70" stroke="#000" stroke-width="0.8"/>
<text transform="translate(408.17,401.50) scale(1,0.985) rotate(-90)" font-size="8.4" text-anchor="end">OH(2)</text>
<line x1="414.25" y1="394.7" x2="414.25" y2="397.70" stroke="#000" stroke-width="0.8"/>
<text transform="translate(418.07,401.50) scale(1,0.985) rotate(-90)" font-size="8.4" text-anchor="end">WI</text>
<line x1="424.15" y1="394.7" x2="424.15" y2="397.70" stroke="#000" stroke-width="0.8"/>
<text transform="translate(427.97,401.50) scale(1,0.985) rotate(-90)" font-size="8.4" text-anchor="end">AZ(1)</text>
<line x1="434.05" y1="394.7" x2="434.05" y2="397.70" stroke="#000" stroke-width="0.8"/>
<text transform="translate(437.87,401.50) scale(1,0.985) rotate(-90)" font-size="8.4" text-anchor="end">AZ(2)</text>
<line x1="443.95" y1="394.7" x2="443.95" y2="397.70" stroke="#000" stroke-width="0.8"/>
<text transform="translate(447.77,401.50) scale(1,0.985) rotate(-90)" font-size="8.4" text-anchor="end">OK</text>
<line x1="453.85" y1="394.7" x2="453.85" y2="397.70" stroke="#000" stroke-width="0.8"/>
<text transform="translate(457.67,401.50) scale(1,0.985) rotate(-90)" font-size="8.4" text-anchor="end">TX(1)</text>
<line x1="463.75" y1="394.7" x2="463.75" y2="397.70" stroke="#000" stroke-width="0.8"/>
<text transform="translate(467.57,401.50) scale(1,0.985) rotate(-90)" font-size="8.4" text-anchor="end">TX(2)</text>
<line x1="473.65" y1="394.7" x2="473.65" y2="397.70" stroke="#000" stroke-width="0.8"/>
<text transform="translate(477.47,401.50) scale(1,0.985) rotate(-90)" font-size="8.4" text-anchor="end">TX(3)</text>
<line x1="483.55" y1="394.7" x2="483.55" y2="397.70" stroke="#000" stroke-width="0.8"/>
<text transform="translate(487.37,401.50) scale(1,0.985) rotate(-90)" font-size="8.4" text-anchor="end">TX(4)</text>
<line x1="493.45" y1="394.7" x2="493.45" y2="397.70" stroke="#000" stroke-width="0.8"/>
<text transform="translate(497.27,401.50) scale(1,0.985) rotate(-90)" font-size="8.4" text-anchor="end">CA(1)</text>
<line x1="503.35" y1="394.7" x2="503.35" y2="397.70" stroke="#000" stroke-width="0.8"/>
<text transform="translate(507.17,401.50) scale(1,0.985) rotate(-90)" font-size="8.4" text-anchor="end">CA(2)</text>
<line x1="513.25" y1="394.7" x2="513.25" y2="397.70" stroke="#000" stroke-width="0.8"/>
<text transform="translate(517.07,401.50) scale(1,0.985) rotate(-90)" font-size="8.4" text-anchor="end">CA(3)</text>
<line x1="523.15" y1="394.7" x2="523.15" y2="397.70" stroke="#000" stroke-width="0.8"/>
<text transform="translate(526.97,401.50) scale(1,0.985) rotate(-90)" font-size="8.4" text-anchor="end">CA(4)</text>
<line x1="533.05" y1="394.7" x2="533.05" y2="397.70" stroke="#000" stroke-width="0.8"/>
<text transform="translate(536.87,401.50) scale(1,0.985) rotate(-90)" font-size="8.4" text-anchor="end">CA(5)</text>
<line x1="542.95" y1="394.7" x2="542.95" y2="397.70" stroke="#000" stroke-width="0.8"/>
<text transform="translate(546.77,401.50) scale(1,0.985) rotate(-90)" font-size="8.4" text-anchor="end">CO</text>
<line x1="552.85" y1="394.7" x2="552.85" y2="397.70" stroke="#000" stroke-width="0.8"/>
<text transform="translate(556.67,401.50) scale(1,0.985) rotate(-90)" font-size="8.4" text-anchor="end">NV</text>
<line x1="562.75" y1="394.7" x2="562.75" y2="397.70" stroke="#000" stroke-width="0.8"/>
<text transform="translate(566.57,401.50) scale(1,0.985) rotate(-90)" font-size="8.4" text-anchor="end">OR-WA</text>
<line x1="572.65" y1="394.7" x2="572.65" y2="397.70" stroke="#000" stroke-width="0.8"/>
<text transform="translate(576.47,401.50) scale(1,0.985) rotate(-90)" font-size="8.4" text-anchor="end">UT</text>
<line x1="582.55" y1="394.7" x2="582.55" y2="397.70" stroke="#000" stroke-width="0.8"/>
<text transform="translate(586.37,401.50) scale(1,0.985) rotate(-90)" font-size="8.4" text-anchor="end">WA</text>
<text transform="translate(339.7,464.4) scale(1,1.03)" font-size="8.4" text-anchor="middle">Cities Abbreviation</text>
<text transform="translate(7.9,204.50) scale(1,1.012) rotate(-90)" font-size="8.4" text-anchor="middle">Climate Models</text>
<text transform="translate(339.7,8.7) scale(1,1.03)" font-size="10.1" font-weight="bold" text-anchor="middle" xml:space="preserve">Normalized Index for Stations across Climate Models  - historical</text>
<defs><linearGradient id="vg" x1="0" y1="1" x2="0" y2="0">
<stop offset="0.0000" stop-color="#440154"/>
<stop offset="0.0156" stop-color="#46075a"/>
<stop offset="0.0312" stop-color="#470d60"/>
<stop offset="0.0469" stop-color="#471365"/>
<stop offset="0.0625" stop-color="#48186a"/>
<stop offset="0.0781" stop-color="#481d6f"/>
<stop offset="0.0938" stop-color="#482374"/>
<stop offset="0.1094" stop-color="#482878"/>
<stop offset="0.1250" stop-color="#472d7b"/>
<stop offset="0.1406" stop-color="#46327e"/>
<stop offset="0.1562" stop-color="#453781"/>
<stop offset="0.1719" stop-color="#443b84"/>
<stop offset="0.1875" stop-color="#424086"/>
<stop offset="0.2031" stop-color="#404588"/>
<stop offset="0.2188" stop-color="#3e4989"/>
<stop offset="0.2344" stop-color="#3d4e8a"/>
<stop offset="0.2500" stop-color="#3b528b"/>
<stop offset="0.2656" stop-color="#39568c"/>
<stop offset="0.2812" stop-color="#375b8d"/>
<stop offset="0.2969" stop-color="#355f8d"/>
<stop offset="0.3125" stop-color="#33638d"/>
<stop offset="0.3281" stop-color="#31678e"/>
<stop offset="0.3438" stop-color="#2f6b8e"/>
<stop offset="0.3594" stop-color="#2e6f8e"/>
<stop offset="0.3750" stop-color="#2c728e"/>
<stop offset="0.3906" stop-color="#2a768e"/>
<stop offset="0.4062" stop-color="#297a8e"/>
<stop offset="0.4219" stop-color="#277e8e"/>
<stop offset="0.4375" stop-color="#26828e"/>
<stop offset="0.4531" stop-color="#25858e"/>
<stop offset="0.4688" stop-color="#23898e"/>
<stop offset="0.4844" stop-color="#228d8d"/>
<stop offset="0.5000" stop-color="#21918c"/>
<stop offset="0.5156" stop-color="#1f948c"/>
<stop offset="0.5312" stop-color="#1f988b"/>
<stop offset="0.5469" stop-color="#1e9c89"/>
<stop offset="0.5625" stop-color="#1fa088"/>
<stop offset="0.5781" stop-color="#20a386"/>
<stop offset="0.5938" stop-color="#22a785"/>
<stop offset="0.6094" stop-color="#25ab82"/>
<stop offset="0.6250" stop-color="#28ae80"/>
<stop offset="0.6406" stop-color="#2db27d"/>
<stop offset="0.6562" stop-color="#32b67a"/>
<stop offset="0.6719" stop-color="#38b977"/>
<stop offset="0.6875" stop-color="#3fbc73"/>
<stop offset="0.7031" stop-color="#46c06f"/>
<stop offset="0.7188" stop-color="#4ec36b"/>
<stop offset="0.7344" stop-color="#56c667"/>
<stop offset="0.7500" stop-color="#5ec962"/>
<stop offset="0.7656" stop-color="#67cc5c"/>
<stop offset="0.7812" stop-color="#70cf57"/>
<stop offset="0.7969" stop-color="#7ad151"/>
<stop offset="0.8125" stop-color="#84d44b"/>
<stop offset="0.8281" stop-color="#8ed645"/>
<stop offset="0.8438" stop-color="#98d83e"/>
<stop offset="0.8594" stop-color="#a2da37"/>
<stop offset="0.8750" stop-color="#addc30"/>
<stop offset="0.8906" stop-color="#b8de29"/>
<stop offset="0.9062" stop-color="#c2df23"/>
<stop offset="0.9219" stop-color="#cde11d"/>
<stop offset="0.9375" stop-color="#d8e219"/>
<stop offset="0.9531" stop-color="#e2e418"/>
<stop offset="0.9688" stop-color="#ece51b"/>
<stop offset="0.9844" stop-color="#f6e620"/>
<stop offset="1.0000" stop-color="#fde725"/>
</linearGradient></defs>
<rect x="618.3" y="13.1" width="19.50" height="381.59999999999997" fill="url(#vg)" stroke="#000" stroke-width="0.8"/>
<line x1="637.8" y1="394.70" x2="640.70" y2="394.70" stroke="#000" stroke-width="0.8"/>
<text transform="translate(643.30,398.41) scale(1,1.03)" font-size="8.4">0.0</text>
<line x1="637.8" y1="318.38" x2="640.70" y2="318.38" stroke="#000" stroke-width="0.8"/>
<text transform="translate(643.30,322.09) scale(1,1.03)" font-size="8.4">0.2</text>
<line x1="637.8" y1="242.06" x2="640.70" y2="242.06" stroke="#000" stroke-width="0.8"/>
<text transform="translate(643.30,245.77) scale(1,1.03)" font-size="8.4">0.4</text>
<line x1="637.8" y1="165.74" x2="640.70" y2="165.74" stroke="#000" stroke-width="0.8"/>
<text transform="translate(643.30,169.45) scale(1,1.03)" font-size="8.4">0.6</text>
<line x1="637.8" y1="89.42" x2="640.70" y2="89.42" stroke="#000" stroke-width="0.8"/>
<text transform="translate(643.30,93.13) scale(1,1.03)" font-size="8.4">0.8</text>
<line x1="637.8" y1="13.10" x2="640.70" y2="13.10" stroke="#000" stroke-width="0.8"/>
<text transform="translate(643.30,16.81) scale(1,1.03)" font-size="8.4">1.0</text>
<text transform="translate(666.1,203.40) scale(1,1.03) rotate(-90)" font-size="8.4" text-anchor="middle">Composite Heatwave Index</text>
</svg></body></html>
